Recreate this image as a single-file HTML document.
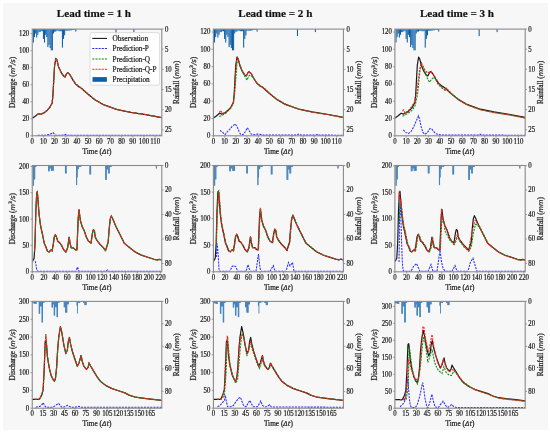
<!DOCTYPE html>
<html><head><meta charset="utf-8"><title>Lead time comparison</title><style>html,body{margin:0;padding:0;background:#fff;}svg{display:block;} svg text{stroke:#222;stroke-width:0.22px;}</style></head><body>
<svg width="550" height="435" viewBox="0 0 550 435">
<rect x="0" y="0" width="550" height="435" fill="#ffffff"/>
<rect x="3" y="3" width="545" height="427" fill="#f7f7f7"/>
<text x="93.93" y="16.6" font-family="'Liberation Serif','DejaVu Serif',serif" font-weight="bold" font-size="11.1" text-anchor="middle" fill="#111">Lead time = 1 h</text>
<text x="275.3" y="16.6" font-family="'Liberation Serif','DejaVu Serif',serif" font-weight="bold" font-size="11.1" text-anchor="middle" fill="#111">Lead time = 2 h</text>
<text x="456.95" y="16.6" font-family="'Liberation Serif','DejaVu Serif',serif" font-weight="bold" font-size="11.1" text-anchor="middle" fill="#111">Lead time = 3 h</text>
<clipPath id="clip00"><rect x="32.25" y="29.1" width="129.55" height="106.7"/></clipPath>
<g clip-path="url(#clip00)">
<rect x="32.86" y="29.1" width="1.03" height="13.42" fill="#085ca8"/>
<rect x="33.98" y="29.1" width="1.03" height="8.01" fill="#085ca8"/>
<rect x="35.1" y="29.1" width="1.03" height="4.41" fill="#085ca8"/>
<rect x="36.21" y="29.1" width="1.03" height="8.41" fill="#085ca8"/>
<rect x="37.33" y="29.1" width="1.03" height="5.71" fill="#085ca8"/>
<rect x="38.45" y="29.1" width="1.03" height="3" fill="#085ca8"/>
<rect x="39.57" y="29.1" width="1.03" height="3" fill="#085ca8"/>
<rect x="40.68" y="29.1" width="1.03" height="2.1" fill="#085ca8"/>
<rect x="41.8" y="29.1" width="1.03" height="2.1" fill="#085ca8"/>
<rect x="42.92" y="29.1" width="1.03" height="9.82" fill="#085ca8"/>
<rect x="44.03" y="29.1" width="1.03" height="13.42" fill="#085ca8"/>
<rect x="45.15" y="29.1" width="1.03" height="5.71" fill="#085ca8"/>
<rect x="46.27" y="29.1" width="1.03" height="8.01" fill="#085ca8"/>
<rect x="47.38" y="29.1" width="1.03" height="18.03" fill="#085ca8"/>
<rect x="48.5" y="29.1" width="1.03" height="15.73" fill="#085ca8"/>
<rect x="49.62" y="29.1" width="1.03" height="18.93" fill="#085ca8"/>
<rect x="50.73" y="29.1" width="1.03" height="21.23" fill="#085ca8"/>
<rect x="51.85" y="29.1" width="1.03" height="21.23" fill="#085ca8"/>
<rect x="52.97" y="29.1" width="1.03" height="4.41" fill="#085ca8"/>
<rect x="54.08" y="29.1" width="1.03" height="2.5" fill="#085ca8"/>
<rect x="55.2" y="29.1" width="1.03" height="2.5" fill="#085ca8"/>
<rect x="56.32" y="29.1" width="1.03" height="1.6" fill="#085ca8"/>
<rect x="57.43" y="29.1" width="1.03" height="1.6" fill="#085ca8"/>
<rect x="58.55" y="29.1" width="1.03" height="2.1" fill="#085ca8"/>
<rect x="59.67" y="29.1" width="1.03" height="2.1" fill="#085ca8"/>
<rect x="60.78" y="29.1" width="1.03" height="2.1" fill="#085ca8"/>
<rect x="61.9" y="29.1" width="1.03" height="18.53" fill="#085ca8"/>
<rect x="63.02" y="29.1" width="1.03" height="9.82" fill="#085ca8"/>
<rect x="64.13" y="29.1" width="1.03" height="6.21" fill="#085ca8"/>
<rect x="65.25" y="29.1" width="1.03" height="1.6" fill="#085ca8"/>
<rect x="66.37" y="29.1" width="1.03" height="1.6" fill="#085ca8"/>
<rect x="67.49" y="29.1" width="1.03" height="1.6" fill="#085ca8"/>
<rect x="68.6" y="29.1" width="1.03" height="1.6" fill="#085ca8"/>
<rect x="69.72" y="29.1" width="1.03" height="1.2" fill="#085ca8"/>
<rect x="70.84" y="29.1" width="1.03" height="1.2" fill="#085ca8"/>
<rect x="71.95" y="29.1" width="1.03" height="0.7" fill="#085ca8"/>
<rect x="73.07" y="29.1" width="1.03" height="0.7" fill="#085ca8"/>
<rect x="74.19" y="29.1" width="1.03" height="0.7" fill="#085ca8"/>
<rect x="75.3" y="29.1" width="1.03" height="2.5" fill="#085ca8"/>
<rect x="115.51" y="29.1" width="1.03" height="7.01" fill="#085ca8"/>
<rect x="133.38" y="29.1" width="1.03" height="3" fill="#085ca8"/>
<path d="M32.3,118.2 L35.2,116.3 L38.4,113.6 L40.8,114.4 L44.1,112.8 L47.3,110.2 L49.7,107.5 L52.1,103.1 L52.9,95.4 L53.7,80.9 L54.5,66.5 L55.8,58.4 L56.9,60 L58.5,66.5 L60.9,72.1 L63.4,75.8 L65,76.9 L66.6,73.7 L67.7,72.6 L69.8,74.5 L73,80.1 L75.7,84.2 L77,85 L78.6,86.6 L80,87.3 L82,88.7 L87.5,93.7 L94.9,99.7 L103.9,104.9 L117.3,109.6 L130.7,112.3 L145.6,114.6 L161.8,117.7" fill="none" stroke="#1a1a1a" stroke-width="1.2" stroke-linejoin="round"/>
<path d="M37.7,135.3 L45,135.2 L50,134.4 L53,132.7 L55.5,135.2 L60,135.3 L64,135 L65.5,134.4 L67,135.3 L161.8,135.3" fill="none" stroke="#2a2aff" stroke-width="1.05" stroke-dasharray="2.1,1.05"/>
<path d="M37.05,114.83 L38.51,113.6 L40.91,114.4 L44.21,112.8 L47.41,110.2 L49.81,107.5 L52.21,103.1 L53.01,95.4 L53.81,80.9 L54.61,66.5 L55.91,58.4 L57.01,60 L58.61,66.5 L61.01,72.1 L63.51,75.8 L65.11,76.9 L66.71,73.7 L67.81,72.6 L69.91,74.5 L73.11,80.1 L75.81,84.2 L77.11,85 L78.71,86.6 L80.11,87.3 L82.11,88.7 L87.61,93.7 L95.01,99.7 L104.01,104.9 L117.41,109.6 L130.81,112.3 L145.71,114.6 L161.91,117.7" fill="none" stroke="#0a8a0a" stroke-width="1.05" stroke-dasharray="2.1,1.05"/>
<path d="M37.05,114.74 L38.4,113.6 L40.8,114.4 L44.1,112.8 L47.3,110.2 L49.7,107.5 L52.1,103.1 L52.9,95.4 L53.7,80.9 L54.5,66.5 L55.8,58.4 L56.9,60 L58.5,66.5 L60.9,72.1 L63.4,75.8 L65,76.9 L66.6,73.7 L67.7,72.6 L69.8,74.5 L73,80.1 L75.7,84.2 L77,85 L78.6,86.6 L80,87.3 L82,88.7 L87.5,93.7 L94.9,99.7 L103.9,104.9 L117.3,109.6 L130.7,112.3 L145.6,114.6 L161.8,117.7" fill="none" stroke="#ff2020" stroke-width="1.05" stroke-dasharray="2.1,1.05"/>
</g>
<rect x="32.25" y="29.1" width="129.55" height="106.7" fill="none" stroke="#8a8a8a" stroke-width="1.1"/>
<line x1="30.45" y1="135.8" x2="32.25" y2="135.8" stroke="#8a8a8a" stroke-width="0.8"/>
<text transform="translate(29.15,138.25) scale(0.93,1)" font-family="'Liberation Serif','DejaVu Serif',serif" font-size="7.3" text-anchor="end" fill="#1a1a1a">0</text>
<line x1="30.45" y1="118.77" x2="32.25" y2="118.77" stroke="#8a8a8a" stroke-width="0.8"/>
<text transform="translate(29.15,121.22) scale(0.93,1)" font-family="'Liberation Serif','DejaVu Serif',serif" font-size="7.3" text-anchor="end" fill="#1a1a1a">20</text>
<line x1="30.45" y1="101.74" x2="32.25" y2="101.74" stroke="#8a8a8a" stroke-width="0.8"/>
<text transform="translate(29.15,104.19) scale(0.93,1)" font-family="'Liberation Serif','DejaVu Serif',serif" font-size="7.3" text-anchor="end" fill="#1a1a1a">40</text>
<line x1="30.45" y1="84.71" x2="32.25" y2="84.71" stroke="#8a8a8a" stroke-width="0.8"/>
<text transform="translate(29.15,87.16) scale(0.93,1)" font-family="'Liberation Serif','DejaVu Serif',serif" font-size="7.3" text-anchor="end" fill="#1a1a1a">60</text>
<line x1="30.45" y1="67.68" x2="32.25" y2="67.68" stroke="#8a8a8a" stroke-width="0.8"/>
<text transform="translate(29.15,70.13) scale(0.93,1)" font-family="'Liberation Serif','DejaVu Serif',serif" font-size="7.3" text-anchor="end" fill="#1a1a1a">80</text>
<line x1="30.45" y1="50.64" x2="32.25" y2="50.64" stroke="#8a8a8a" stroke-width="0.8"/>
<text transform="translate(29.15,53.09) scale(0.93,1)" font-family="'Liberation Serif','DejaVu Serif',serif" font-size="7.3" text-anchor="end" fill="#1a1a1a">100</text>
<line x1="30.45" y1="33.61" x2="32.25" y2="33.61" stroke="#8a8a8a" stroke-width="0.8"/>
<text transform="translate(29.15,36.06) scale(0.93,1)" font-family="'Liberation Serif','DejaVu Serif',serif" font-size="7.3" text-anchor="end" fill="#1a1a1a">120</text>
<line x1="161.8" y1="29.1" x2="163.6" y2="29.1" stroke="#8a8a8a" stroke-width="0.8"/>
<text transform="translate(164.9,31.55) scale(0.93,1)" font-family="'Liberation Serif','DejaVu Serif',serif" font-size="7.3" fill="#1a1a1a">0</text>
<line x1="161.8" y1="49.23" x2="163.6" y2="49.23" stroke="#8a8a8a" stroke-width="0.8"/>
<text transform="translate(164.9,51.68) scale(0.93,1)" font-family="'Liberation Serif','DejaVu Serif',serif" font-size="7.3" fill="#1a1a1a">5</text>
<line x1="161.8" y1="69.36" x2="163.6" y2="69.36" stroke="#8a8a8a" stroke-width="0.8"/>
<text transform="translate(164.9,71.81) scale(0.93,1)" font-family="'Liberation Serif','DejaVu Serif',serif" font-size="7.3" fill="#1a1a1a">10</text>
<line x1="161.8" y1="89.5" x2="163.6" y2="89.5" stroke="#8a8a8a" stroke-width="0.8"/>
<text transform="translate(164.9,91.95) scale(0.93,1)" font-family="'Liberation Serif','DejaVu Serif',serif" font-size="7.3" fill="#1a1a1a">15</text>
<line x1="161.8" y1="109.63" x2="163.6" y2="109.63" stroke="#8a8a8a" stroke-width="0.8"/>
<text transform="translate(164.9,112.08) scale(0.93,1)" font-family="'Liberation Serif','DejaVu Serif',serif" font-size="7.3" fill="#1a1a1a">20</text>
<line x1="161.8" y1="129.76" x2="163.6" y2="129.76" stroke="#8a8a8a" stroke-width="0.8"/>
<text transform="translate(164.9,132.21) scale(0.93,1)" font-family="'Liberation Serif','DejaVu Serif',serif" font-size="7.3" fill="#1a1a1a">25</text>
<line x1="32.25" y1="135.8" x2="32.25" y2="137.6" stroke="#8a8a8a" stroke-width="0.8"/>
<text transform="translate(32.25,143.8) scale(0.93,1)" font-family="'Liberation Serif','DejaVu Serif',serif" font-size="7.3" text-anchor="middle" fill="#1a1a1a">0</text>
<line x1="43.42" y1="135.8" x2="43.42" y2="137.6" stroke="#8a8a8a" stroke-width="0.8"/>
<text transform="translate(43.42,143.8) scale(0.93,1)" font-family="'Liberation Serif','DejaVu Serif',serif" font-size="7.3" text-anchor="middle" fill="#1a1a1a">10</text>
<line x1="54.59" y1="135.8" x2="54.59" y2="137.6" stroke="#8a8a8a" stroke-width="0.8"/>
<text transform="translate(54.59,143.8) scale(0.93,1)" font-family="'Liberation Serif','DejaVu Serif',serif" font-size="7.3" text-anchor="middle" fill="#1a1a1a">20</text>
<line x1="65.75" y1="135.8" x2="65.75" y2="137.6" stroke="#8a8a8a" stroke-width="0.8"/>
<text transform="translate(65.75,143.8) scale(0.93,1)" font-family="'Liberation Serif','DejaVu Serif',serif" font-size="7.3" text-anchor="middle" fill="#1a1a1a">30</text>
<line x1="76.92" y1="135.8" x2="76.92" y2="137.6" stroke="#8a8a8a" stroke-width="0.8"/>
<text transform="translate(76.92,143.8) scale(0.93,1)" font-family="'Liberation Serif','DejaVu Serif',serif" font-size="7.3" text-anchor="middle" fill="#1a1a1a">40</text>
<line x1="88.09" y1="135.8" x2="88.09" y2="137.6" stroke="#8a8a8a" stroke-width="0.8"/>
<text transform="translate(88.09,143.8) scale(0.93,1)" font-family="'Liberation Serif','DejaVu Serif',serif" font-size="7.3" text-anchor="middle" fill="#1a1a1a">50</text>
<line x1="99.26" y1="135.8" x2="99.26" y2="137.6" stroke="#8a8a8a" stroke-width="0.8"/>
<text transform="translate(99.26,143.8) scale(0.93,1)" font-family="'Liberation Serif','DejaVu Serif',serif" font-size="7.3" text-anchor="middle" fill="#1a1a1a">60</text>
<line x1="110.43" y1="135.8" x2="110.43" y2="137.6" stroke="#8a8a8a" stroke-width="0.8"/>
<text transform="translate(110.43,143.8) scale(0.93,1)" font-family="'Liberation Serif','DejaVu Serif',serif" font-size="7.3" text-anchor="middle" fill="#1a1a1a">70</text>
<line x1="121.59" y1="135.8" x2="121.59" y2="137.6" stroke="#8a8a8a" stroke-width="0.8"/>
<text transform="translate(121.59,143.8) scale(0.93,1)" font-family="'Liberation Serif','DejaVu Serif',serif" font-size="7.3" text-anchor="middle" fill="#1a1a1a">80</text>
<line x1="132.76" y1="135.8" x2="132.76" y2="137.6" stroke="#8a8a8a" stroke-width="0.8"/>
<text transform="translate(132.76,143.8) scale(0.93,1)" font-family="'Liberation Serif','DejaVu Serif',serif" font-size="7.3" text-anchor="middle" fill="#1a1a1a">90</text>
<line x1="143.93" y1="135.8" x2="143.93" y2="137.6" stroke="#8a8a8a" stroke-width="0.8"/>
<text transform="translate(143.93,143.8) scale(0.93,1)" font-family="'Liberation Serif','DejaVu Serif',serif" font-size="7.3" text-anchor="middle" fill="#1a1a1a">100</text>
<line x1="155.1" y1="135.8" x2="155.1" y2="137.6" stroke="#8a8a8a" stroke-width="0.8"/>
<text transform="translate(155.1,143.8) scale(0.93,1)" font-family="'Liberation Serif','DejaVu Serif',serif" font-size="7.3" text-anchor="middle" fill="#1a1a1a">110</text>
<text transform="translate(14.55,82.45) rotate(-90)" font-family="'Liberation Serif','DejaVu Serif',serif" font-size="7.3" text-anchor="middle" fill="#1a1a1a">Discharge (<tspan font-family="'DejaVu Sans',sans-serif" font-style="italic" font-size="6.6">m</tspan><tspan font-family="'DejaVu Sans',sans-serif" font-size="4.6" dy="-2.6">3</tspan><tspan font-family="'DejaVu Sans',sans-serif" font-style="italic" font-size="6.6" dy="2.6">/s</tspan>)</text>
<text transform="translate(179.3,82.45) rotate(-90)" font-family="'Liberation Serif','DejaVu Serif',serif" font-size="7.3" text-anchor="middle" fill="#1a1a1a">Rainfall (<tspan font-family="'DejaVu Sans',sans-serif" font-style="italic" font-size="6.6">mm</tspan>)</text>
<text x="97.03" y="154" font-family="'Liberation Serif','DejaVu Serif',serif" font-size="7.3" text-anchor="middle" fill="#1a1a1a">Time (<tspan font-family="'DejaVu Sans',sans-serif" font-style="italic" font-size="6.6">Δt</tspan>)</text>
<clipPath id="clip01"><rect x="213.4" y="29.1" width="130" height="106.7"/></clipPath>
<g clip-path="url(#clip01)">
<rect x="214.02" y="29.1" width="1.03" height="13.42" fill="#085ca8"/>
<rect x="215.14" y="29.1" width="1.03" height="8.01" fill="#085ca8"/>
<rect x="216.26" y="29.1" width="1.03" height="4.41" fill="#085ca8"/>
<rect x="217.38" y="29.1" width="1.03" height="8.41" fill="#085ca8"/>
<rect x="218.5" y="29.1" width="1.03" height="5.71" fill="#085ca8"/>
<rect x="219.62" y="29.1" width="1.03" height="3" fill="#085ca8"/>
<rect x="220.74" y="29.1" width="1.03" height="3" fill="#085ca8"/>
<rect x="221.86" y="29.1" width="1.03" height="2.1" fill="#085ca8"/>
<rect x="222.98" y="29.1" width="1.03" height="2.1" fill="#085ca8"/>
<rect x="224.1" y="29.1" width="1.03" height="9.82" fill="#085ca8"/>
<rect x="225.22" y="29.1" width="1.03" height="13.42" fill="#085ca8"/>
<rect x="226.34" y="29.1" width="1.03" height="5.71" fill="#085ca8"/>
<rect x="227.46" y="29.1" width="1.03" height="8.01" fill="#085ca8"/>
<rect x="228.59" y="29.1" width="1.03" height="18.03" fill="#085ca8"/>
<rect x="229.71" y="29.1" width="1.03" height="15.73" fill="#085ca8"/>
<rect x="230.83" y="29.1" width="1.03" height="18.93" fill="#085ca8"/>
<rect x="231.95" y="29.1" width="1.03" height="21.23" fill="#085ca8"/>
<rect x="233.07" y="29.1" width="1.03" height="21.23" fill="#085ca8"/>
<rect x="234.19" y="29.1" width="1.03" height="4.41" fill="#085ca8"/>
<rect x="235.31" y="29.1" width="1.03" height="2.5" fill="#085ca8"/>
<rect x="236.43" y="29.1" width="1.03" height="2.5" fill="#085ca8"/>
<rect x="237.55" y="29.1" width="1.03" height="1.6" fill="#085ca8"/>
<rect x="238.67" y="29.1" width="1.03" height="1.6" fill="#085ca8"/>
<rect x="239.79" y="29.1" width="1.03" height="2.1" fill="#085ca8"/>
<rect x="240.91" y="29.1" width="1.03" height="2.1" fill="#085ca8"/>
<rect x="242.03" y="29.1" width="1.03" height="2.1" fill="#085ca8"/>
<rect x="243.15" y="29.1" width="1.03" height="18.53" fill="#085ca8"/>
<rect x="244.28" y="29.1" width="1.03" height="9.82" fill="#085ca8"/>
<rect x="245.4" y="29.1" width="1.03" height="6.21" fill="#085ca8"/>
<rect x="246.52" y="29.1" width="1.03" height="1.6" fill="#085ca8"/>
<rect x="247.64" y="29.1" width="1.03" height="1.6" fill="#085ca8"/>
<rect x="248.76" y="29.1" width="1.03" height="1.6" fill="#085ca8"/>
<rect x="249.88" y="29.1" width="1.03" height="1.6" fill="#085ca8"/>
<rect x="251" y="29.1" width="1.03" height="1.2" fill="#085ca8"/>
<rect x="252.12" y="29.1" width="1.03" height="1.2" fill="#085ca8"/>
<rect x="253.24" y="29.1" width="1.03" height="0.7" fill="#085ca8"/>
<rect x="254.36" y="29.1" width="1.03" height="0.7" fill="#085ca8"/>
<rect x="255.48" y="29.1" width="1.03" height="0.7" fill="#085ca8"/>
<rect x="256.6" y="29.1" width="1.03" height="2.5" fill="#085ca8"/>
<rect x="296.95" y="29.1" width="1.03" height="7.01" fill="#085ca8"/>
<rect x="314.88" y="29.1" width="1.03" height="3" fill="#085ca8"/>
<path d="M213.45,117.93 L216.36,116 L219.57,113.26 L221.98,114.07 L225.29,112.45 L228.5,109.81 L230.91,107.06 L233.32,102.6 L234.12,94.78 L234.92,80.05 L235.73,65.43 L237.03,57.21 L238.14,58.83 L239.74,65.43 L242.15,71.12 L244.66,74.88 L246.26,75.99 L247.87,72.74 L248.97,71.63 L251.08,73.56 L254.29,79.24 L257,83.41 L258.31,84.22 L259.91,85.84 L261.32,86.55 L263.32,87.97 L268.84,93.05 L276.27,99.14 L285.3,104.42 L298.75,109.2 L312.19,111.94 L327.14,114.27 L343.4,117.42" fill="none" stroke="#1a1a1a" stroke-width="1.2" stroke-linejoin="round"/>
<path d="M220,130.3 L222.5,132.2 L225.1,134.7 L227,132.2 L229.5,129.6 L232.1,126.5 L235.3,123.9 L237.2,127.1 L239.1,131.5 L240.4,134.1 L242.9,134.7 L245.5,131.5 L247.4,127.7 L249.3,130.9 L251.2,134.1 L253.7,134.7 L257.5,134.1 L260,134.3 L262.6,135.1 L296,135.1 L298.5,134 L301,135.1 L316,135.1 L317.5,134.4 L319,135.1 L343.4,135.2" fill="none" stroke="#2a2aff" stroke-width="1.05" stroke-dasharray="2.1,1.05"/>
<path d="M219.34,116.39 L222,115.5 L226,113.1 L230.8,108.3 L233.2,103.4 L234.8,92.2 L236,76.1 L237.3,60 L238.1,59.2 L240.5,66.5 L243.7,74.5 L246.9,80.1 L249.3,75.3 L251.7,76.1 L254.9,80.1 L258.2,85 L260.6,86.6 L261.99,86.55 L264,87.97 L269.51,93.05 L276.94,99.14 L285.97,104.42 L299.42,109.2 L312.86,112.24 L327.82,114.57 L344.07,117.72" fill="none" stroke="#0a8a0a" stroke-width="1.05" stroke-dasharray="2.1,1.05"/>
<path d="M219.34,112.68 L220.6,110.5 L222.5,113.5 L225.52,112.45 L228.73,109.81 L231.13,107.06 L233.54,102.6 L234.35,94.78 L235.15,80.05 L235.95,65.43 L237.26,57.21 L238.36,58.83 L239.97,65.43 L242.37,71.12 L244.88,74.88 L246.49,75.99 L248.09,72.74 L249.2,71.63 L251.3,73.56 L254.52,79.24 L257.23,83.41 L258.53,84.22 L260.14,85.84 L261.54,86.55 L263.55,87.97 L269.07,93.05 L276.49,99.14 L285.52,104.42 L298.97,109.2 L312.42,112.24 L327.37,114.57 L343.62,117.72" fill="none" stroke="#ff2020" stroke-width="1.05" stroke-dasharray="2.1,1.05"/>
</g>
<rect x="213.4" y="29.1" width="130" height="106.7" fill="none" stroke="#8a8a8a" stroke-width="1.1"/>
<line x1="211.6" y1="135.8" x2="213.4" y2="135.8" stroke="#8a8a8a" stroke-width="0.8"/>
<text transform="translate(210.3,138.25) scale(0.93,1)" font-family="'Liberation Serif','DejaVu Serif',serif" font-size="7.3" text-anchor="end" fill="#1a1a1a">0</text>
<line x1="211.6" y1="118.51" x2="213.4" y2="118.51" stroke="#8a8a8a" stroke-width="0.8"/>
<text transform="translate(210.3,120.96) scale(0.93,1)" font-family="'Liberation Serif','DejaVu Serif',serif" font-size="7.3" text-anchor="end" fill="#1a1a1a">20</text>
<line x1="211.6" y1="101.21" x2="213.4" y2="101.21" stroke="#8a8a8a" stroke-width="0.8"/>
<text transform="translate(210.3,103.66) scale(0.93,1)" font-family="'Liberation Serif','DejaVu Serif',serif" font-size="7.3" text-anchor="end" fill="#1a1a1a">40</text>
<line x1="211.6" y1="83.92" x2="213.4" y2="83.92" stroke="#8a8a8a" stroke-width="0.8"/>
<text transform="translate(210.3,86.37) scale(0.93,1)" font-family="'Liberation Serif','DejaVu Serif',serif" font-size="7.3" text-anchor="end" fill="#1a1a1a">60</text>
<line x1="211.6" y1="66.63" x2="213.4" y2="66.63" stroke="#8a8a8a" stroke-width="0.8"/>
<text transform="translate(210.3,69.08) scale(0.93,1)" font-family="'Liberation Serif','DejaVu Serif',serif" font-size="7.3" text-anchor="end" fill="#1a1a1a">80</text>
<line x1="211.6" y1="49.33" x2="213.4" y2="49.33" stroke="#8a8a8a" stroke-width="0.8"/>
<text transform="translate(210.3,51.78) scale(0.93,1)" font-family="'Liberation Serif','DejaVu Serif',serif" font-size="7.3" text-anchor="end" fill="#1a1a1a">100</text>
<line x1="211.6" y1="32.04" x2="213.4" y2="32.04" stroke="#8a8a8a" stroke-width="0.8"/>
<text transform="translate(210.3,34.49) scale(0.93,1)" font-family="'Liberation Serif','DejaVu Serif',serif" font-size="7.3" text-anchor="end" fill="#1a1a1a">120</text>
<line x1="343.4" y1="29.1" x2="345.2" y2="29.1" stroke="#8a8a8a" stroke-width="0.8"/>
<text transform="translate(346.5,31.55) scale(0.93,1)" font-family="'Liberation Serif','DejaVu Serif',serif" font-size="7.3" fill="#1a1a1a">0</text>
<line x1="343.4" y1="49.23" x2="345.2" y2="49.23" stroke="#8a8a8a" stroke-width="0.8"/>
<text transform="translate(346.5,51.68) scale(0.93,1)" font-family="'Liberation Serif','DejaVu Serif',serif" font-size="7.3" fill="#1a1a1a">5</text>
<line x1="343.4" y1="69.36" x2="345.2" y2="69.36" stroke="#8a8a8a" stroke-width="0.8"/>
<text transform="translate(346.5,71.81) scale(0.93,1)" font-family="'Liberation Serif','DejaVu Serif',serif" font-size="7.3" fill="#1a1a1a">10</text>
<line x1="343.4" y1="89.5" x2="345.2" y2="89.5" stroke="#8a8a8a" stroke-width="0.8"/>
<text transform="translate(346.5,91.95) scale(0.93,1)" font-family="'Liberation Serif','DejaVu Serif',serif" font-size="7.3" fill="#1a1a1a">15</text>
<line x1="343.4" y1="109.63" x2="345.2" y2="109.63" stroke="#8a8a8a" stroke-width="0.8"/>
<text transform="translate(346.5,112.08) scale(0.93,1)" font-family="'Liberation Serif','DejaVu Serif',serif" font-size="7.3" fill="#1a1a1a">20</text>
<line x1="343.4" y1="129.76" x2="345.2" y2="129.76" stroke="#8a8a8a" stroke-width="0.8"/>
<text transform="translate(346.5,132.21) scale(0.93,1)" font-family="'Liberation Serif','DejaVu Serif',serif" font-size="7.3" fill="#1a1a1a">25</text>
<line x1="213.4" y1="135.8" x2="213.4" y2="137.6" stroke="#8a8a8a" stroke-width="0.8"/>
<text transform="translate(213.4,143.8) scale(0.93,1)" font-family="'Liberation Serif','DejaVu Serif',serif" font-size="7.3" text-anchor="middle" fill="#1a1a1a">0</text>
<line x1="224.61" y1="135.8" x2="224.61" y2="137.6" stroke="#8a8a8a" stroke-width="0.8"/>
<text transform="translate(224.61,143.8) scale(0.93,1)" font-family="'Liberation Serif','DejaVu Serif',serif" font-size="7.3" text-anchor="middle" fill="#1a1a1a">10</text>
<line x1="235.81" y1="135.8" x2="235.81" y2="137.6" stroke="#8a8a8a" stroke-width="0.8"/>
<text transform="translate(235.81,143.8) scale(0.93,1)" font-family="'Liberation Serif','DejaVu Serif',serif" font-size="7.3" text-anchor="middle" fill="#1a1a1a">20</text>
<line x1="247.02" y1="135.8" x2="247.02" y2="137.6" stroke="#8a8a8a" stroke-width="0.8"/>
<text transform="translate(247.02,143.8) scale(0.93,1)" font-family="'Liberation Serif','DejaVu Serif',serif" font-size="7.3" text-anchor="middle" fill="#1a1a1a">30</text>
<line x1="258.23" y1="135.8" x2="258.23" y2="137.6" stroke="#8a8a8a" stroke-width="0.8"/>
<text transform="translate(258.23,143.8) scale(0.93,1)" font-family="'Liberation Serif','DejaVu Serif',serif" font-size="7.3" text-anchor="middle" fill="#1a1a1a">40</text>
<line x1="269.43" y1="135.8" x2="269.43" y2="137.6" stroke="#8a8a8a" stroke-width="0.8"/>
<text transform="translate(269.43,143.8) scale(0.93,1)" font-family="'Liberation Serif','DejaVu Serif',serif" font-size="7.3" text-anchor="middle" fill="#1a1a1a">50</text>
<line x1="280.64" y1="135.8" x2="280.64" y2="137.6" stroke="#8a8a8a" stroke-width="0.8"/>
<text transform="translate(280.64,143.8) scale(0.93,1)" font-family="'Liberation Serif','DejaVu Serif',serif" font-size="7.3" text-anchor="middle" fill="#1a1a1a">60</text>
<line x1="291.85" y1="135.8" x2="291.85" y2="137.6" stroke="#8a8a8a" stroke-width="0.8"/>
<text transform="translate(291.85,143.8) scale(0.93,1)" font-family="'Liberation Serif','DejaVu Serif',serif" font-size="7.3" text-anchor="middle" fill="#1a1a1a">70</text>
<line x1="303.06" y1="135.8" x2="303.06" y2="137.6" stroke="#8a8a8a" stroke-width="0.8"/>
<text transform="translate(303.06,143.8) scale(0.93,1)" font-family="'Liberation Serif','DejaVu Serif',serif" font-size="7.3" text-anchor="middle" fill="#1a1a1a">80</text>
<line x1="314.26" y1="135.8" x2="314.26" y2="137.6" stroke="#8a8a8a" stroke-width="0.8"/>
<text transform="translate(314.26,143.8) scale(0.93,1)" font-family="'Liberation Serif','DejaVu Serif',serif" font-size="7.3" text-anchor="middle" fill="#1a1a1a">90</text>
<line x1="325.47" y1="135.8" x2="325.47" y2="137.6" stroke="#8a8a8a" stroke-width="0.8"/>
<text transform="translate(325.47,143.8) scale(0.93,1)" font-family="'Liberation Serif','DejaVu Serif',serif" font-size="7.3" text-anchor="middle" fill="#1a1a1a">100</text>
<line x1="336.68" y1="135.8" x2="336.68" y2="137.6" stroke="#8a8a8a" stroke-width="0.8"/>
<text transform="translate(336.68,143.8) scale(0.93,1)" font-family="'Liberation Serif','DejaVu Serif',serif" font-size="7.3" text-anchor="middle" fill="#1a1a1a">110</text>
<text transform="translate(195.7,82.45) rotate(-90)" font-family="'Liberation Serif','DejaVu Serif',serif" font-size="7.3" text-anchor="middle" fill="#1a1a1a">Discharge (<tspan font-family="'DejaVu Sans',sans-serif" font-style="italic" font-size="6.6">m</tspan><tspan font-family="'DejaVu Sans',sans-serif" font-size="4.6" dy="-2.6">3</tspan><tspan font-family="'DejaVu Sans',sans-serif" font-style="italic" font-size="6.6" dy="2.6">/s</tspan>)</text>
<text transform="translate(360.9,82.45) rotate(-90)" font-family="'Liberation Serif','DejaVu Serif',serif" font-size="7.3" text-anchor="middle" fill="#1a1a1a">Rainfall (<tspan font-family="'DejaVu Sans',sans-serif" font-style="italic" font-size="6.6">mm</tspan>)</text>
<text x="278.4" y="154" font-family="'Liberation Serif','DejaVu Serif',serif" font-size="7.3" text-anchor="middle" fill="#1a1a1a">Time (<tspan font-family="'DejaVu Sans',sans-serif" font-style="italic" font-size="6.6">Δt</tspan>)</text>
<clipPath id="clip02"><rect x="394.9" y="29.1" width="130.3" height="106.7"/></clipPath>
<g clip-path="url(#clip02)">
<rect x="395.52" y="29.1" width="1.03" height="13.42" fill="#085ca8"/>
<rect x="396.64" y="29.1" width="1.03" height="8.01" fill="#085ca8"/>
<rect x="397.76" y="29.1" width="1.03" height="4.41" fill="#085ca8"/>
<rect x="398.89" y="29.1" width="1.03" height="8.41" fill="#085ca8"/>
<rect x="400.01" y="29.1" width="1.03" height="5.71" fill="#085ca8"/>
<rect x="401.13" y="29.1" width="1.03" height="3" fill="#085ca8"/>
<rect x="402.26" y="29.1" width="1.03" height="3" fill="#085ca8"/>
<rect x="403.38" y="29.1" width="1.03" height="2.1" fill="#085ca8"/>
<rect x="404.5" y="29.1" width="1.03" height="2.1" fill="#085ca8"/>
<rect x="405.63" y="29.1" width="1.03" height="9.82" fill="#085ca8"/>
<rect x="406.75" y="29.1" width="1.03" height="13.42" fill="#085ca8"/>
<rect x="407.87" y="29.1" width="1.03" height="5.71" fill="#085ca8"/>
<rect x="409" y="29.1" width="1.03" height="8.01" fill="#085ca8"/>
<rect x="410.12" y="29.1" width="1.03" height="18.03" fill="#085ca8"/>
<rect x="411.24" y="29.1" width="1.03" height="15.73" fill="#085ca8"/>
<rect x="412.37" y="29.1" width="1.03" height="18.93" fill="#085ca8"/>
<rect x="413.49" y="29.1" width="1.03" height="21.23" fill="#085ca8"/>
<rect x="414.61" y="29.1" width="1.03" height="21.23" fill="#085ca8"/>
<rect x="415.74" y="29.1" width="1.03" height="4.41" fill="#085ca8"/>
<rect x="416.86" y="29.1" width="1.03" height="2.5" fill="#085ca8"/>
<rect x="417.98" y="29.1" width="1.03" height="2.5" fill="#085ca8"/>
<rect x="419.11" y="29.1" width="1.03" height="1.6" fill="#085ca8"/>
<rect x="420.23" y="29.1" width="1.03" height="1.6" fill="#085ca8"/>
<rect x="421.35" y="29.1" width="1.03" height="2.1" fill="#085ca8"/>
<rect x="422.48" y="29.1" width="1.03" height="2.1" fill="#085ca8"/>
<rect x="423.6" y="29.1" width="1.03" height="2.1" fill="#085ca8"/>
<rect x="424.72" y="29.1" width="1.03" height="18.53" fill="#085ca8"/>
<rect x="425.85" y="29.1" width="1.03" height="9.82" fill="#085ca8"/>
<rect x="426.97" y="29.1" width="1.03" height="6.21" fill="#085ca8"/>
<rect x="428.09" y="29.1" width="1.03" height="1.6" fill="#085ca8"/>
<rect x="429.22" y="29.1" width="1.03" height="1.6" fill="#085ca8"/>
<rect x="430.34" y="29.1" width="1.03" height="1.6" fill="#085ca8"/>
<rect x="431.46" y="29.1" width="1.03" height="1.6" fill="#085ca8"/>
<rect x="432.59" y="29.1" width="1.03" height="1.2" fill="#085ca8"/>
<rect x="433.71" y="29.1" width="1.03" height="1.2" fill="#085ca8"/>
<rect x="434.83" y="29.1" width="1.03" height="0.7" fill="#085ca8"/>
<rect x="435.96" y="29.1" width="1.03" height="0.7" fill="#085ca8"/>
<rect x="437.08" y="29.1" width="1.03" height="0.7" fill="#085ca8"/>
<rect x="438.2" y="29.1" width="1.03" height="2.5" fill="#085ca8"/>
<rect x="478.64" y="29.1" width="1.03" height="7.01" fill="#085ca8"/>
<rect x="496.61" y="29.1" width="1.03" height="3" fill="#085ca8"/>
<path d="M394.95,117.93 L397.87,116 L401.09,113.26 L403.5,114.07 L406.82,112.45 L410.04,109.81 L412.45,107.06 L414.86,102.6 L415.67,94.78 L416.47,80.05 L417.28,65.43 L418.59,57.21 L419.69,58.83 L421.3,65.43 L423.72,71.12 L426.23,74.88 L427.84,75.99 L429.45,72.74 L430.56,71.63 L432.67,73.56 L435.89,79.24 L438.6,83.41 L439.91,84.22 L441.52,85.84 L442.93,86.55 L444.94,87.97 L450.47,93.05 L457.91,99.14 L466.96,104.42 L480.44,109.2 L493.92,111.94 L508.91,114.27 L525.2,117.42" fill="none" stroke="#1a1a1a" stroke-width="1.2" stroke-linejoin="round"/>
<path d="M403.3,129.8 L405.8,132.4 L408.4,133.6 L410.9,131.7 L413.5,127.3 L416,121.5 L418.5,115.8 L419.8,120.3 L421.1,126.6 L423,132.4 L424.9,134.3 L427.5,132.4 L430,128.5 L431.9,129.2 L433.8,131.7 L435.7,133.6 L438.9,134.5 L441,135.1 L478,135.1 L480,134.2 L482,135.1 L525.2,135.2" fill="none" stroke="#2a2aff" stroke-width="1.05" stroke-dasharray="2.1,1.05"/>
<path d="M402.54,116.18 L406.7,114.1 L411.7,110.7 L415.1,105.7 L417.6,94 L419.3,77.2 L420.5,66.3 L421.5,62.9 L423.5,67.9 L426.8,77.2 L429.4,82.2 L431.9,78.8 L434.4,77.2 L437.8,83.9 L441.9,88.1 L446.1,90.75 L446.29,88.15 L451.82,93.85 L459.26,99.94 L468.31,105.22 L481.79,110 L495.27,112.74 L510.25,115.07 L526.55,118.22" fill="none" stroke="#0a8a0a" stroke-width="1.05" stroke-dasharray="2.1,1.05"/>
<path d="M402.54,111.19 L403.4,109.9 L405,113.2 L410,109 L414.3,102.3 L416.8,92.3 L419.3,72.1 L421,62.9 L422.7,65.4 L425.2,70.5 L427.7,73 L431,71.3 L435.2,77.2 L440.3,85.6 L444.5,89.8 L445.5,88.04 L451.03,93.85 L458.47,99.94 L467.53,105.22 L481,110 L494.48,112.74 L509.47,115.07 L525.76,118.22" fill="none" stroke="#ff2020" stroke-width="1.05" stroke-dasharray="2.1,1.05"/>
</g>
<rect x="394.9" y="29.1" width="130.3" height="106.7" fill="none" stroke="#8a8a8a" stroke-width="1.1"/>
<line x1="393.1" y1="135.8" x2="394.9" y2="135.8" stroke="#8a8a8a" stroke-width="0.8"/>
<text transform="translate(391.8,138.25) scale(0.93,1)" font-family="'Liberation Serif','DejaVu Serif',serif" font-size="7.3" text-anchor="end" fill="#1a1a1a">0</text>
<line x1="393.1" y1="118.51" x2="394.9" y2="118.51" stroke="#8a8a8a" stroke-width="0.8"/>
<text transform="translate(391.8,120.96) scale(0.93,1)" font-family="'Liberation Serif','DejaVu Serif',serif" font-size="7.3" text-anchor="end" fill="#1a1a1a">20</text>
<line x1="393.1" y1="101.21" x2="394.9" y2="101.21" stroke="#8a8a8a" stroke-width="0.8"/>
<text transform="translate(391.8,103.66) scale(0.93,1)" font-family="'Liberation Serif','DejaVu Serif',serif" font-size="7.3" text-anchor="end" fill="#1a1a1a">40</text>
<line x1="393.1" y1="83.92" x2="394.9" y2="83.92" stroke="#8a8a8a" stroke-width="0.8"/>
<text transform="translate(391.8,86.37) scale(0.93,1)" font-family="'Liberation Serif','DejaVu Serif',serif" font-size="7.3" text-anchor="end" fill="#1a1a1a">60</text>
<line x1="393.1" y1="66.63" x2="394.9" y2="66.63" stroke="#8a8a8a" stroke-width="0.8"/>
<text transform="translate(391.8,69.08) scale(0.93,1)" font-family="'Liberation Serif','DejaVu Serif',serif" font-size="7.3" text-anchor="end" fill="#1a1a1a">80</text>
<line x1="393.1" y1="49.33" x2="394.9" y2="49.33" stroke="#8a8a8a" stroke-width="0.8"/>
<text transform="translate(391.8,51.78) scale(0.93,1)" font-family="'Liberation Serif','DejaVu Serif',serif" font-size="7.3" text-anchor="end" fill="#1a1a1a">100</text>
<line x1="393.1" y1="32.04" x2="394.9" y2="32.04" stroke="#8a8a8a" stroke-width="0.8"/>
<text transform="translate(391.8,34.49) scale(0.93,1)" font-family="'Liberation Serif','DejaVu Serif',serif" font-size="7.3" text-anchor="end" fill="#1a1a1a">120</text>
<line x1="525.2" y1="29.1" x2="527" y2="29.1" stroke="#8a8a8a" stroke-width="0.8"/>
<text transform="translate(528.3,31.55) scale(0.93,1)" font-family="'Liberation Serif','DejaVu Serif',serif" font-size="7.3" fill="#1a1a1a">0</text>
<line x1="525.2" y1="49.23" x2="527" y2="49.23" stroke="#8a8a8a" stroke-width="0.8"/>
<text transform="translate(528.3,51.68) scale(0.93,1)" font-family="'Liberation Serif','DejaVu Serif',serif" font-size="7.3" fill="#1a1a1a">5</text>
<line x1="525.2" y1="69.36" x2="527" y2="69.36" stroke="#8a8a8a" stroke-width="0.8"/>
<text transform="translate(528.3,71.81) scale(0.93,1)" font-family="'Liberation Serif','DejaVu Serif',serif" font-size="7.3" fill="#1a1a1a">10</text>
<line x1="525.2" y1="89.5" x2="527" y2="89.5" stroke="#8a8a8a" stroke-width="0.8"/>
<text transform="translate(528.3,91.95) scale(0.93,1)" font-family="'Liberation Serif','DejaVu Serif',serif" font-size="7.3" fill="#1a1a1a">15</text>
<line x1="525.2" y1="109.63" x2="527" y2="109.63" stroke="#8a8a8a" stroke-width="0.8"/>
<text transform="translate(528.3,112.08) scale(0.93,1)" font-family="'Liberation Serif','DejaVu Serif',serif" font-size="7.3" fill="#1a1a1a">20</text>
<line x1="525.2" y1="129.76" x2="527" y2="129.76" stroke="#8a8a8a" stroke-width="0.8"/>
<text transform="translate(528.3,132.21) scale(0.93,1)" font-family="'Liberation Serif','DejaVu Serif',serif" font-size="7.3" fill="#1a1a1a">25</text>
<line x1="394.9" y1="135.8" x2="394.9" y2="137.6" stroke="#8a8a8a" stroke-width="0.8"/>
<text transform="translate(394.9,143.8) scale(0.93,1)" font-family="'Liberation Serif','DejaVu Serif',serif" font-size="7.3" text-anchor="middle" fill="#1a1a1a">0</text>
<line x1="406.13" y1="135.8" x2="406.13" y2="137.6" stroke="#8a8a8a" stroke-width="0.8"/>
<text transform="translate(406.13,143.8) scale(0.93,1)" font-family="'Liberation Serif','DejaVu Serif',serif" font-size="7.3" text-anchor="middle" fill="#1a1a1a">10</text>
<line x1="417.37" y1="135.8" x2="417.37" y2="137.6" stroke="#8a8a8a" stroke-width="0.8"/>
<text transform="translate(417.37,143.8) scale(0.93,1)" font-family="'Liberation Serif','DejaVu Serif',serif" font-size="7.3" text-anchor="middle" fill="#1a1a1a">20</text>
<line x1="428.6" y1="135.8" x2="428.6" y2="137.6" stroke="#8a8a8a" stroke-width="0.8"/>
<text transform="translate(428.6,143.8) scale(0.93,1)" font-family="'Liberation Serif','DejaVu Serif',serif" font-size="7.3" text-anchor="middle" fill="#1a1a1a">30</text>
<line x1="439.83" y1="135.8" x2="439.83" y2="137.6" stroke="#8a8a8a" stroke-width="0.8"/>
<text transform="translate(439.83,143.8) scale(0.93,1)" font-family="'Liberation Serif','DejaVu Serif',serif" font-size="7.3" text-anchor="middle" fill="#1a1a1a">40</text>
<line x1="451.06" y1="135.8" x2="451.06" y2="137.6" stroke="#8a8a8a" stroke-width="0.8"/>
<text transform="translate(451.06,143.8) scale(0.93,1)" font-family="'Liberation Serif','DejaVu Serif',serif" font-size="7.3" text-anchor="middle" fill="#1a1a1a">50</text>
<line x1="462.3" y1="135.8" x2="462.3" y2="137.6" stroke="#8a8a8a" stroke-width="0.8"/>
<text transform="translate(462.3,143.8) scale(0.93,1)" font-family="'Liberation Serif','DejaVu Serif',serif" font-size="7.3" text-anchor="middle" fill="#1a1a1a">60</text>
<line x1="473.53" y1="135.8" x2="473.53" y2="137.6" stroke="#8a8a8a" stroke-width="0.8"/>
<text transform="translate(473.53,143.8) scale(0.93,1)" font-family="'Liberation Serif','DejaVu Serif',serif" font-size="7.3" text-anchor="middle" fill="#1a1a1a">70</text>
<line x1="484.76" y1="135.8" x2="484.76" y2="137.6" stroke="#8a8a8a" stroke-width="0.8"/>
<text transform="translate(484.76,143.8) scale(0.93,1)" font-family="'Liberation Serif','DejaVu Serif',serif" font-size="7.3" text-anchor="middle" fill="#1a1a1a">80</text>
<line x1="495.99" y1="135.8" x2="495.99" y2="137.6" stroke="#8a8a8a" stroke-width="0.8"/>
<text transform="translate(495.99,143.8) scale(0.93,1)" font-family="'Liberation Serif','DejaVu Serif',serif" font-size="7.3" text-anchor="middle" fill="#1a1a1a">90</text>
<line x1="507.23" y1="135.8" x2="507.23" y2="137.6" stroke="#8a8a8a" stroke-width="0.8"/>
<text transform="translate(507.23,143.8) scale(0.93,1)" font-family="'Liberation Serif','DejaVu Serif',serif" font-size="7.3" text-anchor="middle" fill="#1a1a1a">100</text>
<line x1="518.46" y1="135.8" x2="518.46" y2="137.6" stroke="#8a8a8a" stroke-width="0.8"/>
<text transform="translate(518.46,143.8) scale(0.93,1)" font-family="'Liberation Serif','DejaVu Serif',serif" font-size="7.3" text-anchor="middle" fill="#1a1a1a">110</text>
<text transform="translate(377.2,82.45) rotate(-90)" font-family="'Liberation Serif','DejaVu Serif',serif" font-size="7.3" text-anchor="middle" fill="#1a1a1a">Discharge (<tspan font-family="'DejaVu Sans',sans-serif" font-style="italic" font-size="6.6">m</tspan><tspan font-family="'DejaVu Sans',sans-serif" font-size="4.6" dy="-2.6">3</tspan><tspan font-family="'DejaVu Sans',sans-serif" font-style="italic" font-size="6.6" dy="2.6">/s</tspan>)</text>
<text transform="translate(542.7,82.45) rotate(-90)" font-family="'Liberation Serif','DejaVu Serif',serif" font-size="7.3" text-anchor="middle" fill="#1a1a1a">Rainfall (<tspan font-family="'DejaVu Sans',sans-serif" font-style="italic" font-size="6.6">mm</tspan>)</text>
<text x="460.05" y="154" font-family="'Liberation Serif','DejaVu Serif',serif" font-size="7.3" text-anchor="middle" fill="#1a1a1a">Time (<tspan font-family="'DejaVu Sans',sans-serif" font-style="italic" font-size="6.6">Δt</tspan>)</text>
<clipPath id="clip10"><rect x="32.25" y="165.5" width="129.55" height="106.3"/></clipPath>
<g clip-path="url(#clip10)">
<rect x="32.89" y="165.5" width="0.54" height="20.29" fill="#085ca8"/>
<rect x="33.47" y="165.5" width="0.54" height="20.29" fill="#085ca8"/>
<rect x="34.06" y="165.5" width="0.54" height="14" fill="#085ca8"/>
<rect x="34.64" y="165.5" width="0.54" height="14" fill="#085ca8"/>
<rect x="35.22" y="165.5" width="0.54" height="1.5" fill="#085ca8"/>
<rect x="35.8" y="165.5" width="0.54" height="1.5" fill="#085ca8"/>
<rect x="48.04" y="165.5" width="0.54" height="5.8" fill="#085ca8"/>
<rect x="48.63" y="165.5" width="0.54" height="5.8" fill="#085ca8"/>
<rect x="49.21" y="165.5" width="0.54" height="5.8" fill="#085ca8"/>
<rect x="49.79" y="165.5" width="0.54" height="3" fill="#085ca8"/>
<rect x="50.37" y="165.5" width="0.54" height="3" fill="#085ca8"/>
<rect x="50.96" y="165.5" width="0.54" height="5.4" fill="#085ca8"/>
<rect x="51.54" y="165.5" width="0.54" height="5.4" fill="#085ca8"/>
<rect x="52.12" y="165.5" width="0.54" height="5.4" fill="#085ca8"/>
<rect x="52.71" y="165.5" width="0.54" height="5.4" fill="#085ca8"/>
<rect x="53.29" y="165.5" width="0.54" height="5.4" fill="#085ca8"/>
<rect x="64.94" y="165.5" width="0.54" height="8" fill="#085ca8"/>
<rect x="65.53" y="165.5" width="0.54" height="8" fill="#085ca8"/>
<rect x="66.11" y="165.5" width="0.54" height="8" fill="#085ca8"/>
<rect x="76.02" y="165.5" width="0.54" height="19.59" fill="#085ca8"/>
<rect x="76.6" y="165.5" width="0.54" height="19.59" fill="#085ca8"/>
<rect x="77.18" y="165.5" width="0.54" height="12" fill="#085ca8"/>
<rect x="77.76" y="165.5" width="0.54" height="3.6" fill="#085ca8"/>
<rect x="78.35" y="165.5" width="0.54" height="3.6" fill="#085ca8"/>
<rect x="78.93" y="165.5" width="0.54" height="1.4" fill="#085ca8"/>
<rect x="79.51" y="165.5" width="0.54" height="1.4" fill="#085ca8"/>
<rect x="80.1" y="165.5" width="0.54" height="1.4" fill="#085ca8"/>
<rect x="80.68" y="165.5" width="0.54" height="1.4" fill="#085ca8"/>
<rect x="89.42" y="165.5" width="0.54" height="9" fill="#085ca8"/>
<rect x="90" y="165.5" width="0.54" height="9" fill="#085ca8"/>
<rect x="90.59" y="165.5" width="0.54" height="9" fill="#085ca8"/>
<rect x="105.15" y="165.5" width="0.54" height="14.4" fill="#085ca8"/>
<rect x="105.74" y="165.5" width="0.54" height="14.4" fill="#085ca8"/>
<rect x="106.32" y="165.5" width="0.54" height="14.4" fill="#085ca8"/>
<rect x="106.9" y="165.5" width="0.54" height="4" fill="#085ca8"/>
<rect x="107.49" y="165.5" width="0.54" height="4" fill="#085ca8"/>
<rect x="108.07" y="165.5" width="0.54" height="8" fill="#085ca8"/>
<rect x="108.65" y="165.5" width="0.54" height="8" fill="#085ca8"/>
<rect x="109.23" y="165.5" width="0.54" height="8" fill="#085ca8"/>
<rect x="109.82" y="165.5" width="0.54" height="1.5" fill="#085ca8"/>
<rect x="110.4" y="165.5" width="0.54" height="1.5" fill="#085ca8"/>
<rect x="110.98" y="165.5" width="0.54" height="1.5" fill="#085ca8"/>
<rect x="155.86" y="165.5" width="0.54" height="3" fill="#085ca8"/>
<rect x="156.44" y="165.5" width="0.54" height="3" fill="#085ca8"/>
<path d="M32.3,261.6 L34.1,258.4 L35,243.6 L35.8,211.8 L36.7,192.7 L37.3,191.7 L37.9,199 L39,213.9 L40.5,225.5 L42.6,235 L44.3,243.6 L45.8,246.7 L47.3,251 L49,252 L51,249.9 L52.1,251 L53.2,244.6 L54.2,237.2 L55.3,234.7 L56.4,236.8 L57.8,241.4 L59.5,242.5 L61.7,245.7 L63.8,249.9 L65.9,252 L67.6,247.8 L69.1,237.2 L70.1,243.6 L71.2,247.8 L73.3,247.8 L75.4,249.9 L76.9,249.9 L78.2,218.1 L79,209.7 L80.3,220.3 L82.1,226.5 L84.2,230.7 L86.3,237.1 L88.5,241.3 L91,243 L92.3,233.9 L93.3,229.7 L94.4,230.7 L95.2,237.1 L96.9,240.3 L100.1,244.5 L103.3,247.7 L105.5,250.6 L107.1,245.5 L108.1,242.4 L109.2,228.6 L110.2,219.1 L111.3,215.9 L112.8,219.1 L115.9,226.5 L120.2,235 L124.4,243.4 L129.7,247.7 L135,251.9 L141.3,255.1 L147.7,257.2 L154,259.3 L157.2,259.9 L159.3,259.3 L161.8,259.9" fill="none" stroke="#1a1a1a" stroke-width="1.2" stroke-linejoin="round"/>
<path d="M35.3,261.2 L36,265 L36.7,269.3 L37.7,271.3 L76,271.3 L77.5,267 L79,271.3 L106,271.3 L107.5,269.9 L109,271.3 L161.8,271.3" fill="none" stroke="#2a2aff" stroke-width="1.05" stroke-dasharray="2.1,1.05"/>
<path d="M34.58,252.41 L35.12,243.6 L35.92,211.8 L36.82,192.7 L37.42,191.7 L38.02,199 L39.12,213.9 L40.62,225.5 L42.72,235 L44.42,243.6 L45.92,246.7 L47.42,251 L49.12,252 L51.12,249.9 L52.22,251 L53.32,244.6 L54.32,237.2 L55.42,234.7 L56.52,236.8 L57.92,241.4 L59.62,242.5 L61.82,245.7 L63.92,249.9 L66.02,252 L67.72,247.8 L69.22,237.2 L70.22,243.6 L71.32,247.8 L73.42,247.8 L75.52,249.9 L77.02,249.9 L78.32,218.1 L79.12,209.7 L80.42,220.3 L82.22,226.5 L84.32,230.7 L86.42,237.1 L88.62,241.3 L91.12,243 L92.42,233.9 L93.42,229.7 L94.52,230.7 L95.32,237.1 L97.02,240.3 L100.22,244.5 L103.42,247.7 L105.62,250.6 L107.22,245.5 L108.22,242.4 L109.32,228.6 L110.32,219.1 L111.42,215.9 L112.92,219.1 L116.02,226.5 L120.32,235 L124.52,243.4 L129.82,247.7 L135.12,251.9 L141.42,255.1 L147.82,257.2 L154.12,259.3 L157.32,259.9 L159.42,259.3 L161.92,259.9" fill="none" stroke="#0a8a0a" stroke-width="1.05" stroke-dasharray="2.1,1.05"/>
<path d="M34.58,250.49 L35,243.6 L35.8,211.8 L36.7,192.7 L37.3,191.7 L37.9,199 L39,213.9 L40.5,225.5 L42.6,235 L44.3,243.6 L45.8,246.7 L47.3,251 L49,252 L51,249.9 L52.1,251 L53.2,244.6 L54.2,237.2 L55.3,234.7 L56.4,236.8 L57.8,241.4 L59.5,242.5 L61.7,245.7 L63.8,249.9 L65.9,252 L67.6,247.8 L69.1,237.2 L70.1,243.6 L71.2,247.8 L73.3,247.8 L75.4,249.9 L76.9,249.9 L78.2,218.1 L79,209.7 L80.3,220.3 L82.1,226.5 L84.2,230.7 L86.3,237.1 L88.5,241.3 L91,243 L92.3,233.9 L93.3,229.7 L94.4,230.7 L95.2,237.1 L96.9,240.3 L100.1,244.5 L103.3,247.7 L105.5,250.6 L107.1,245.5 L108.1,242.4 L109.2,228.6 L110.2,219.1 L111.3,215.9 L112.8,219.1 L115.9,226.5 L120.2,235 L124.4,243.4 L129.7,247.7 L135,251.9 L141.3,255.1 L147.7,257.2 L154,259.3 L157.2,259.9 L159.3,259.3 L161.8,259.9" fill="none" stroke="#ff2020" stroke-width="1.05" stroke-dasharray="2.1,1.05"/>
</g>
<rect x="32.25" y="165.5" width="129.55" height="106.3" fill="none" stroke="#8a8a8a" stroke-width="1.1"/>
<line x1="30.45" y1="271.8" x2="32.25" y2="271.8" stroke="#8a8a8a" stroke-width="0.8"/>
<text transform="translate(29.15,274.25) scale(0.93,1)" font-family="'Liberation Serif','DejaVu Serif',serif" font-size="7.3" text-anchor="end" fill="#1a1a1a">0</text>
<line x1="30.45" y1="245.45" x2="32.25" y2="245.45" stroke="#8a8a8a" stroke-width="0.8"/>
<text transform="translate(29.15,247.9) scale(0.93,1)" font-family="'Liberation Serif','DejaVu Serif',serif" font-size="7.3" text-anchor="end" fill="#1a1a1a">50</text>
<line x1="30.45" y1="219.1" x2="32.25" y2="219.1" stroke="#8a8a8a" stroke-width="0.8"/>
<text transform="translate(29.15,221.55) scale(0.93,1)" font-family="'Liberation Serif','DejaVu Serif',serif" font-size="7.3" text-anchor="end" fill="#1a1a1a">100</text>
<line x1="30.45" y1="192.75" x2="32.25" y2="192.75" stroke="#8a8a8a" stroke-width="0.8"/>
<text transform="translate(29.15,195.2) scale(0.93,1)" font-family="'Liberation Serif','DejaVu Serif',serif" font-size="7.3" text-anchor="end" fill="#1a1a1a">150</text>
<line x1="30.45" y1="166.4" x2="32.25" y2="166.4" stroke="#8a8a8a" stroke-width="0.8"/>
<text transform="translate(29.15,168.85) scale(0.93,1)" font-family="'Liberation Serif','DejaVu Serif',serif" font-size="7.3" text-anchor="end" fill="#1a1a1a">200</text>
<line x1="161.8" y1="165.5" x2="163.6" y2="165.5" stroke="#8a8a8a" stroke-width="0.8"/>
<text transform="translate(164.9,167.95) scale(0.93,1)" font-family="'Liberation Serif','DejaVu Serif',serif" font-size="7.3" fill="#1a1a1a">0</text>
<line x1="161.8" y1="189.99" x2="163.6" y2="189.99" stroke="#8a8a8a" stroke-width="0.8"/>
<text transform="translate(164.9,192.44) scale(0.93,1)" font-family="'Liberation Serif','DejaVu Serif',serif" font-size="7.3" fill="#1a1a1a">20</text>
<line x1="161.8" y1="214.49" x2="163.6" y2="214.49" stroke="#8a8a8a" stroke-width="0.8"/>
<text transform="translate(164.9,216.94) scale(0.93,1)" font-family="'Liberation Serif','DejaVu Serif',serif" font-size="7.3" fill="#1a1a1a">40</text>
<line x1="161.8" y1="238.98" x2="163.6" y2="238.98" stroke="#8a8a8a" stroke-width="0.8"/>
<text transform="translate(164.9,241.43) scale(0.93,1)" font-family="'Liberation Serif','DejaVu Serif',serif" font-size="7.3" fill="#1a1a1a">60</text>
<line x1="161.8" y1="263.47" x2="163.6" y2="263.47" stroke="#8a8a8a" stroke-width="0.8"/>
<text transform="translate(164.9,265.92) scale(0.93,1)" font-family="'Liberation Serif','DejaVu Serif',serif" font-size="7.3" fill="#1a1a1a">80</text>
<line x1="32.25" y1="271.8" x2="32.25" y2="273.6" stroke="#8a8a8a" stroke-width="0.8"/>
<text transform="translate(32.25,279.8) scale(0.93,1)" font-family="'Liberation Serif','DejaVu Serif',serif" font-size="7.3" text-anchor="middle" fill="#1a1a1a">0</text>
<line x1="43.91" y1="271.8" x2="43.91" y2="273.6" stroke="#8a8a8a" stroke-width="0.8"/>
<text transform="translate(43.91,279.8) scale(0.93,1)" font-family="'Liberation Serif','DejaVu Serif',serif" font-size="7.3" text-anchor="middle" fill="#1a1a1a">20</text>
<line x1="55.56" y1="271.8" x2="55.56" y2="273.6" stroke="#8a8a8a" stroke-width="0.8"/>
<text transform="translate(55.56,279.8) scale(0.93,1)" font-family="'Liberation Serif','DejaVu Serif',serif" font-size="7.3" text-anchor="middle" fill="#1a1a1a">40</text>
<line x1="67.22" y1="271.8" x2="67.22" y2="273.6" stroke="#8a8a8a" stroke-width="0.8"/>
<text transform="translate(67.22,279.8) scale(0.93,1)" font-family="'Liberation Serif','DejaVu Serif',serif" font-size="7.3" text-anchor="middle" fill="#1a1a1a">60</text>
<line x1="78.87" y1="271.8" x2="78.87" y2="273.6" stroke="#8a8a8a" stroke-width="0.8"/>
<text transform="translate(78.87,279.8) scale(0.93,1)" font-family="'Liberation Serif','DejaVu Serif',serif" font-size="7.3" text-anchor="middle" fill="#1a1a1a">80</text>
<line x1="90.53" y1="271.8" x2="90.53" y2="273.6" stroke="#8a8a8a" stroke-width="0.8"/>
<text transform="translate(90.53,279.8) scale(0.93,1)" font-family="'Liberation Serif','DejaVu Serif',serif" font-size="7.3" text-anchor="middle" fill="#1a1a1a">100</text>
<line x1="102.18" y1="271.8" x2="102.18" y2="273.6" stroke="#8a8a8a" stroke-width="0.8"/>
<text transform="translate(102.18,279.8) scale(0.93,1)" font-family="'Liberation Serif','DejaVu Serif',serif" font-size="7.3" text-anchor="middle" fill="#1a1a1a">120</text>
<line x1="113.84" y1="271.8" x2="113.84" y2="273.6" stroke="#8a8a8a" stroke-width="0.8"/>
<text transform="translate(113.84,279.8) scale(0.93,1)" font-family="'Liberation Serif','DejaVu Serif',serif" font-size="7.3" text-anchor="middle" fill="#1a1a1a">140</text>
<line x1="125.49" y1="271.8" x2="125.49" y2="273.6" stroke="#8a8a8a" stroke-width="0.8"/>
<text transform="translate(125.49,279.8) scale(0.93,1)" font-family="'Liberation Serif','DejaVu Serif',serif" font-size="7.3" text-anchor="middle" fill="#1a1a1a">160</text>
<line x1="137.15" y1="271.8" x2="137.15" y2="273.6" stroke="#8a8a8a" stroke-width="0.8"/>
<text transform="translate(137.15,279.8) scale(0.93,1)" font-family="'Liberation Serif','DejaVu Serif',serif" font-size="7.3" text-anchor="middle" fill="#1a1a1a">180</text>
<line x1="148.8" y1="271.8" x2="148.8" y2="273.6" stroke="#8a8a8a" stroke-width="0.8"/>
<text transform="translate(148.8,279.8) scale(0.93,1)" font-family="'Liberation Serif','DejaVu Serif',serif" font-size="7.3" text-anchor="middle" fill="#1a1a1a">200</text>
<line x1="160.46" y1="271.8" x2="160.46" y2="273.6" stroke="#8a8a8a" stroke-width="0.8"/>
<text transform="translate(160.46,279.8) scale(0.93,1)" font-family="'Liberation Serif','DejaVu Serif',serif" font-size="7.3" text-anchor="middle" fill="#1a1a1a">220</text>
<text transform="translate(14.55,218.65) rotate(-90)" font-family="'Liberation Serif','DejaVu Serif',serif" font-size="7.3" text-anchor="middle" fill="#1a1a1a">Discharge (<tspan font-family="'DejaVu Sans',sans-serif" font-style="italic" font-size="6.6">m</tspan><tspan font-family="'DejaVu Sans',sans-serif" font-size="4.6" dy="-2.6">3</tspan><tspan font-family="'DejaVu Sans',sans-serif" font-style="italic" font-size="6.6" dy="2.6">/s</tspan>)</text>
<text transform="translate(179.3,218.65) rotate(-90)" font-family="'Liberation Serif','DejaVu Serif',serif" font-size="7.3" text-anchor="middle" fill="#1a1a1a">Rainfall (<tspan font-family="'DejaVu Sans',sans-serif" font-style="italic" font-size="6.6">mm</tspan>)</text>
<text x="97.03" y="290" font-family="'Liberation Serif','DejaVu Serif',serif" font-size="7.3" text-anchor="middle" fill="#1a1a1a">Time (<tspan font-family="'DejaVu Sans',sans-serif" font-style="italic" font-size="6.6">Δt</tspan>)</text>
<clipPath id="clip11"><rect x="213.4" y="165.5" width="130" height="106.3"/></clipPath>
<g clip-path="url(#clip11)">
<rect x="214.04" y="165.5" width="0.54" height="20.29" fill="#085ca8"/>
<rect x="214.63" y="165.5" width="0.54" height="20.29" fill="#085ca8"/>
<rect x="215.21" y="165.5" width="0.54" height="14" fill="#085ca8"/>
<rect x="215.8" y="165.5" width="0.54" height="14" fill="#085ca8"/>
<rect x="216.38" y="165.5" width="0.54" height="1.5" fill="#085ca8"/>
<rect x="216.97" y="165.5" width="0.54" height="1.5" fill="#085ca8"/>
<rect x="229.25" y="165.5" width="0.54" height="5.8" fill="#085ca8"/>
<rect x="229.83" y="165.5" width="0.54" height="5.8" fill="#085ca8"/>
<rect x="230.42" y="165.5" width="0.54" height="5.8" fill="#085ca8"/>
<rect x="231" y="165.5" width="0.54" height="3" fill="#085ca8"/>
<rect x="231.59" y="165.5" width="0.54" height="3" fill="#085ca8"/>
<rect x="232.17" y="165.5" width="0.54" height="5.4" fill="#085ca8"/>
<rect x="232.76" y="165.5" width="0.54" height="5.4" fill="#085ca8"/>
<rect x="233.34" y="165.5" width="0.54" height="5.4" fill="#085ca8"/>
<rect x="233.93" y="165.5" width="0.54" height="5.4" fill="#085ca8"/>
<rect x="234.51" y="165.5" width="0.54" height="5.4" fill="#085ca8"/>
<rect x="246.21" y="165.5" width="0.54" height="8" fill="#085ca8"/>
<rect x="246.79" y="165.5" width="0.54" height="8" fill="#085ca8"/>
<rect x="247.38" y="165.5" width="0.54" height="8" fill="#085ca8"/>
<rect x="257.32" y="165.5" width="0.54" height="19.59" fill="#085ca8"/>
<rect x="257.9" y="165.5" width="0.54" height="19.59" fill="#085ca8"/>
<rect x="258.49" y="165.5" width="0.54" height="12" fill="#085ca8"/>
<rect x="259.07" y="165.5" width="0.54" height="3.6" fill="#085ca8"/>
<rect x="259.66" y="165.5" width="0.54" height="3.6" fill="#085ca8"/>
<rect x="260.24" y="165.5" width="0.54" height="1.4" fill="#085ca8"/>
<rect x="260.83" y="165.5" width="0.54" height="1.4" fill="#085ca8"/>
<rect x="261.41" y="165.5" width="0.54" height="1.4" fill="#085ca8"/>
<rect x="262" y="165.5" width="0.54" height="1.4" fill="#085ca8"/>
<rect x="270.77" y="165.5" width="0.54" height="9" fill="#085ca8"/>
<rect x="271.35" y="165.5" width="0.54" height="9" fill="#085ca8"/>
<rect x="271.94" y="165.5" width="0.54" height="9" fill="#085ca8"/>
<rect x="286.56" y="165.5" width="0.54" height="14.4" fill="#085ca8"/>
<rect x="287.14" y="165.5" width="0.54" height="14.4" fill="#085ca8"/>
<rect x="287.73" y="165.5" width="0.54" height="14.4" fill="#085ca8"/>
<rect x="288.31" y="165.5" width="0.54" height="4" fill="#085ca8"/>
<rect x="288.9" y="165.5" width="0.54" height="4" fill="#085ca8"/>
<rect x="289.48" y="165.5" width="0.54" height="8" fill="#085ca8"/>
<rect x="290.07" y="165.5" width="0.54" height="8" fill="#085ca8"/>
<rect x="290.65" y="165.5" width="0.54" height="8" fill="#085ca8"/>
<rect x="291.24" y="165.5" width="0.54" height="1.5" fill="#085ca8"/>
<rect x="291.82" y="165.5" width="0.54" height="1.5" fill="#085ca8"/>
<rect x="292.41" y="165.5" width="0.54" height="1.5" fill="#085ca8"/>
<rect x="337.44" y="165.5" width="0.54" height="3" fill="#085ca8"/>
<rect x="338.02" y="165.5" width="0.54" height="3" fill="#085ca8"/>
<path d="M213.45,261.51 L215.26,258.29 L216.16,243.36 L216.96,211.29 L217.87,192.03 L218.47,191.02 L219.07,198.38 L220.17,213.41 L221.68,225.11 L223.79,234.69 L225.49,243.36 L227,246.49 L228.5,250.82 L230.21,251.83 L232.22,249.71 L233.32,250.82 L234.42,244.37 L235.43,236.91 L236.53,234.38 L237.63,236.5 L239.04,241.14 L240.74,242.25 L242.95,245.48 L245.06,249.71 L247.17,251.83 L248.87,247.6 L250.38,236.91 L251.38,243.36 L252.49,247.6 L254.59,247.6 L256.7,249.71 L258.21,249.71 L259.51,217.64 L260.31,209.17 L261.62,219.86 L263.42,226.11 L265.53,230.35 L267.64,236.81 L269.85,241.04 L272.35,242.76 L273.66,233.58 L274.66,229.34 L275.77,230.35 L276.57,236.81 L278.27,240.03 L281.49,244.27 L284.7,247.5 L286.9,250.42 L288.51,245.28 L289.51,242.15 L290.62,228.23 L291.62,218.65 L292.72,215.42 L294.23,218.65 L297.34,226.11 L301.66,234.69 L305.87,243.16 L311.19,247.5 L316.51,251.73 L322.83,254.96 L329.25,257.08 L335.57,259.19 L338.78,259.8 L340.89,259.19 L343.4,259.8" fill="none" stroke="#1a1a1a" stroke-width="1.2" stroke-linejoin="round"/>
<path d="M216.3,257 L217.2,243.5 L218.2,255 L219.1,270.7 L220,271.3 L230,271.3 L232,266.5 L234,265.5 L236,267 L237.5,271.3 L246,271.3 L248,264.7 L250,271.3 L256,271.3 L258.5,254 L260,268 L261,271.3 L270,271.3 L273.3,265.6 L275,271.3 L286,271.3 L288.5,262.5 L290,266 L292.5,262.5 L294,271.3 L343.4,271.3" fill="none" stroke="#2a2aff" stroke-width="1.05" stroke-dasharray="2.1,1.05"/>
<path d="M216.32,246.44 L216.51,243.36 L217.31,211.29 L218.22,192.03 L218.82,191.02 L219.42,198.38 L220.52,213.41 L222.03,225.11 L224.14,234.69 L225.84,243.36 L227.35,246.49 L228.85,250.82 L230.56,251.83 L232.57,249.71 L233.67,250.82 L234.77,244.37 L235.78,236.91 L236.88,234.38 L237.98,236.5 L239.39,241.14 L241.1,242.25 L243.3,245.48 L245.41,249.71 L247.52,251.83 L249.22,247.6 L250.73,236.91 L251.73,243.36 L252.84,247.6 L254.94,247.6 L257.05,249.71 L258.56,249.71 L259.86,217.64 L260.66,209.17 L261.97,219.86 L263.77,226.11 L265.88,230.35 L267.99,236.81 L270.2,241.04 L272.7,242.76 L274.01,233.58 L275.01,229.34 L276.12,230.35 L276.92,236.81 L278.63,240.03 L281.84,244.27 L285.05,247.5 L287.26,250.42 L288.86,245.28 L289.86,242.15 L290.97,228.23 L291.97,218.65 L293.08,215.42 L294.58,218.65 L297.69,226.11 L302.01,234.69 L306.22,243.16 L311.54,247.5 L316.86,251.73 L323.18,254.96 L329.6,257.08 L335.92,259.19 L339.13,259.8 L341.24,259.19 L343.75,259.8" fill="none" stroke="#0a8a0a" stroke-width="1.05" stroke-dasharray="2.1,1.05"/>
<path d="M216.32,241.46 L217.08,211.29 L217.9,205.8 L218.9,191.9 L220,205 L220.29,213.41 L221.8,225.11 L223.9,234.69 L225.61,243.36 L227.11,246.49 L228.62,250.82 L230.33,251.83 L232.33,249.71 L233.44,250.82 L234.54,244.37 L235.54,236.91 L236.65,234.38 L237.75,236.5 L239.16,241.14 L240.86,242.25 L243.07,245.48 L245.18,249.71 L247.28,251.83 L248.99,247.6 L250.49,236.91 L251.5,243.36 L252.6,247.6 L254.71,247.6 L256.82,249.71 L258.32,249.71 L259.6,222 L260.4,207.7 L261.4,218 L261.73,219.86 L263.54,226.11 L265.65,230.35 L267.75,236.81 L269.96,241.04 L272.47,242.76 L273.78,233.58 L274.78,229.34 L275.88,230.35 L276.69,236.81 L278.39,240.03 L281.6,244.27 L284.81,247.5 L287.02,250.42 L288.63,245.28 L289.63,242.15 L290.73,228.23 L291.74,218.65 L292.84,215.42 L294.35,218.65 L297.46,226.11 L301.77,234.69 L305.99,243.16 L311.31,247.5 L316.62,251.73 L322.95,254.96 L329.37,257.08 L335.69,259.19 L338.9,259.8 L341.01,259.19 L343.52,259.8" fill="none" stroke="#ff2020" stroke-width="1.05" stroke-dasharray="2.1,1.05"/>
</g>
<rect x="213.4" y="165.5" width="130" height="106.3" fill="none" stroke="#8a8a8a" stroke-width="1.1"/>
<line x1="211.6" y1="271.8" x2="213.4" y2="271.8" stroke="#8a8a8a" stroke-width="0.8"/>
<text transform="translate(210.3,274.25) scale(0.93,1)" font-family="'Liberation Serif','DejaVu Serif',serif" font-size="7.3" text-anchor="end" fill="#1a1a1a">0</text>
<line x1="211.6" y1="245.23" x2="213.4" y2="245.23" stroke="#8a8a8a" stroke-width="0.8"/>
<text transform="translate(210.3,247.68) scale(0.93,1)" font-family="'Liberation Serif','DejaVu Serif',serif" font-size="7.3" text-anchor="end" fill="#1a1a1a">50</text>
<line x1="211.6" y1="218.65" x2="213.4" y2="218.65" stroke="#8a8a8a" stroke-width="0.8"/>
<text transform="translate(210.3,221.1) scale(0.93,1)" font-family="'Liberation Serif','DejaVu Serif',serif" font-size="7.3" text-anchor="end" fill="#1a1a1a">100</text>
<line x1="211.6" y1="192.07" x2="213.4" y2="192.07" stroke="#8a8a8a" stroke-width="0.8"/>
<text transform="translate(210.3,194.52) scale(0.93,1)" font-family="'Liberation Serif','DejaVu Serif',serif" font-size="7.3" text-anchor="end" fill="#1a1a1a">150</text>
<line x1="211.6" y1="165.5" x2="213.4" y2="165.5" stroke="#8a8a8a" stroke-width="0.8"/>
<text transform="translate(210.3,167.95) scale(0.93,1)" font-family="'Liberation Serif','DejaVu Serif',serif" font-size="7.3" text-anchor="end" fill="#1a1a1a">200</text>
<line x1="343.4" y1="165.5" x2="345.2" y2="165.5" stroke="#8a8a8a" stroke-width="0.8"/>
<text transform="translate(346.5,167.95) scale(0.93,1)" font-family="'Liberation Serif','DejaVu Serif',serif" font-size="7.3" fill="#1a1a1a">0</text>
<line x1="343.4" y1="189.99" x2="345.2" y2="189.99" stroke="#8a8a8a" stroke-width="0.8"/>
<text transform="translate(346.5,192.44) scale(0.93,1)" font-family="'Liberation Serif','DejaVu Serif',serif" font-size="7.3" fill="#1a1a1a">20</text>
<line x1="343.4" y1="214.49" x2="345.2" y2="214.49" stroke="#8a8a8a" stroke-width="0.8"/>
<text transform="translate(346.5,216.94) scale(0.93,1)" font-family="'Liberation Serif','DejaVu Serif',serif" font-size="7.3" fill="#1a1a1a">40</text>
<line x1="343.4" y1="238.98" x2="345.2" y2="238.98" stroke="#8a8a8a" stroke-width="0.8"/>
<text transform="translate(346.5,241.43) scale(0.93,1)" font-family="'Liberation Serif','DejaVu Serif',serif" font-size="7.3" fill="#1a1a1a">60</text>
<line x1="343.4" y1="263.47" x2="345.2" y2="263.47" stroke="#8a8a8a" stroke-width="0.8"/>
<text transform="translate(346.5,265.92) scale(0.93,1)" font-family="'Liberation Serif','DejaVu Serif',serif" font-size="7.3" fill="#1a1a1a">80</text>
<line x1="213.4" y1="271.8" x2="213.4" y2="273.6" stroke="#8a8a8a" stroke-width="0.8"/>
<text transform="translate(213.4,279.8) scale(0.93,1)" font-family="'Liberation Serif','DejaVu Serif',serif" font-size="7.3" text-anchor="middle" fill="#1a1a1a">0</text>
<line x1="225.1" y1="271.8" x2="225.1" y2="273.6" stroke="#8a8a8a" stroke-width="0.8"/>
<text transform="translate(225.1,279.8) scale(0.93,1)" font-family="'Liberation Serif','DejaVu Serif',serif" font-size="7.3" text-anchor="middle" fill="#1a1a1a">20</text>
<line x1="236.79" y1="271.8" x2="236.79" y2="273.6" stroke="#8a8a8a" stroke-width="0.8"/>
<text transform="translate(236.79,279.8) scale(0.93,1)" font-family="'Liberation Serif','DejaVu Serif',serif" font-size="7.3" text-anchor="middle" fill="#1a1a1a">40</text>
<line x1="248.49" y1="271.8" x2="248.49" y2="273.6" stroke="#8a8a8a" stroke-width="0.8"/>
<text transform="translate(248.49,279.8) scale(0.93,1)" font-family="'Liberation Serif','DejaVu Serif',serif" font-size="7.3" text-anchor="middle" fill="#1a1a1a">60</text>
<line x1="260.18" y1="271.8" x2="260.18" y2="273.6" stroke="#8a8a8a" stroke-width="0.8"/>
<text transform="translate(260.18,279.8) scale(0.93,1)" font-family="'Liberation Serif','DejaVu Serif',serif" font-size="7.3" text-anchor="middle" fill="#1a1a1a">80</text>
<line x1="271.88" y1="271.8" x2="271.88" y2="273.6" stroke="#8a8a8a" stroke-width="0.8"/>
<text transform="translate(271.88,279.8) scale(0.93,1)" font-family="'Liberation Serif','DejaVu Serif',serif" font-size="7.3" text-anchor="middle" fill="#1a1a1a">100</text>
<line x1="283.58" y1="271.8" x2="283.58" y2="273.6" stroke="#8a8a8a" stroke-width="0.8"/>
<text transform="translate(283.58,279.8) scale(0.93,1)" font-family="'Liberation Serif','DejaVu Serif',serif" font-size="7.3" text-anchor="middle" fill="#1a1a1a">120</text>
<line x1="295.27" y1="271.8" x2="295.27" y2="273.6" stroke="#8a8a8a" stroke-width="0.8"/>
<text transform="translate(295.27,279.8) scale(0.93,1)" font-family="'Liberation Serif','DejaVu Serif',serif" font-size="7.3" text-anchor="middle" fill="#1a1a1a">140</text>
<line x1="306.97" y1="271.8" x2="306.97" y2="273.6" stroke="#8a8a8a" stroke-width="0.8"/>
<text transform="translate(306.97,279.8) scale(0.93,1)" font-family="'Liberation Serif','DejaVu Serif',serif" font-size="7.3" text-anchor="middle" fill="#1a1a1a">160</text>
<line x1="318.66" y1="271.8" x2="318.66" y2="273.6" stroke="#8a8a8a" stroke-width="0.8"/>
<text transform="translate(318.66,279.8) scale(0.93,1)" font-family="'Liberation Serif','DejaVu Serif',serif" font-size="7.3" text-anchor="middle" fill="#1a1a1a">180</text>
<line x1="330.36" y1="271.8" x2="330.36" y2="273.6" stroke="#8a8a8a" stroke-width="0.8"/>
<text transform="translate(330.36,279.8) scale(0.93,1)" font-family="'Liberation Serif','DejaVu Serif',serif" font-size="7.3" text-anchor="middle" fill="#1a1a1a">200</text>
<line x1="342.05" y1="271.8" x2="342.05" y2="273.6" stroke="#8a8a8a" stroke-width="0.8"/>
<text transform="translate(342.05,279.8) scale(0.93,1)" font-family="'Liberation Serif','DejaVu Serif',serif" font-size="7.3" text-anchor="middle" fill="#1a1a1a">220</text>
<text transform="translate(195.7,218.65) rotate(-90)" font-family="'Liberation Serif','DejaVu Serif',serif" font-size="7.3" text-anchor="middle" fill="#1a1a1a">Discharge (<tspan font-family="'DejaVu Sans',sans-serif" font-style="italic" font-size="6.6">m</tspan><tspan font-family="'DejaVu Sans',sans-serif" font-size="4.6" dy="-2.6">3</tspan><tspan font-family="'DejaVu Sans',sans-serif" font-style="italic" font-size="6.6" dy="2.6">/s</tspan>)</text>
<text transform="translate(360.9,218.65) rotate(-90)" font-family="'Liberation Serif','DejaVu Serif',serif" font-size="7.3" text-anchor="middle" fill="#1a1a1a">Rainfall (<tspan font-family="'DejaVu Sans',sans-serif" font-style="italic" font-size="6.6">mm</tspan>)</text>
<text x="278.4" y="290" font-family="'Liberation Serif','DejaVu Serif',serif" font-size="7.3" text-anchor="middle" fill="#1a1a1a">Time (<tspan font-family="'DejaVu Sans',sans-serif" font-style="italic" font-size="6.6">Δt</tspan>)</text>
<clipPath id="clip12"><rect x="394.9" y="165.5" width="130.3" height="106.3"/></clipPath>
<g clip-path="url(#clip12)">
<rect x="395.54" y="165.5" width="0.54" height="20.29" fill="#085ca8"/>
<rect x="396.13" y="165.5" width="0.54" height="20.29" fill="#085ca8"/>
<rect x="396.72" y="165.5" width="0.54" height="14" fill="#085ca8"/>
<rect x="397.3" y="165.5" width="0.54" height="14" fill="#085ca8"/>
<rect x="397.89" y="165.5" width="0.54" height="1.5" fill="#085ca8"/>
<rect x="398.48" y="165.5" width="0.54" height="1.5" fill="#085ca8"/>
<rect x="410.78" y="165.5" width="0.54" height="5.8" fill="#085ca8"/>
<rect x="411.37" y="165.5" width="0.54" height="5.8" fill="#085ca8"/>
<rect x="411.96" y="165.5" width="0.54" height="5.8" fill="#085ca8"/>
<rect x="412.54" y="165.5" width="0.54" height="3" fill="#085ca8"/>
<rect x="413.13" y="165.5" width="0.54" height="3" fill="#085ca8"/>
<rect x="413.72" y="165.5" width="0.54" height="5.4" fill="#085ca8"/>
<rect x="414.3" y="165.5" width="0.54" height="5.4" fill="#085ca8"/>
<rect x="414.89" y="165.5" width="0.54" height="5.4" fill="#085ca8"/>
<rect x="415.47" y="165.5" width="0.54" height="5.4" fill="#085ca8"/>
<rect x="416.06" y="165.5" width="0.54" height="5.4" fill="#085ca8"/>
<rect x="427.78" y="165.5" width="0.54" height="8" fill="#085ca8"/>
<rect x="428.37" y="165.5" width="0.54" height="8" fill="#085ca8"/>
<rect x="428.96" y="165.5" width="0.54" height="8" fill="#085ca8"/>
<rect x="438.92" y="165.5" width="0.54" height="19.59" fill="#085ca8"/>
<rect x="439.51" y="165.5" width="0.54" height="19.59" fill="#085ca8"/>
<rect x="440.09" y="165.5" width="0.54" height="12" fill="#085ca8"/>
<rect x="440.68" y="165.5" width="0.54" height="3.6" fill="#085ca8"/>
<rect x="441.26" y="165.5" width="0.54" height="3.6" fill="#085ca8"/>
<rect x="441.85" y="165.5" width="0.54" height="1.4" fill="#085ca8"/>
<rect x="442.44" y="165.5" width="0.54" height="1.4" fill="#085ca8"/>
<rect x="443.02" y="165.5" width="0.54" height="1.4" fill="#085ca8"/>
<rect x="443.61" y="165.5" width="0.54" height="1.4" fill="#085ca8"/>
<rect x="452.4" y="165.5" width="0.54" height="9" fill="#085ca8"/>
<rect x="452.99" y="165.5" width="0.54" height="9" fill="#085ca8"/>
<rect x="453.57" y="165.5" width="0.54" height="9" fill="#085ca8"/>
<rect x="468.23" y="165.5" width="0.54" height="14.4" fill="#085ca8"/>
<rect x="468.81" y="165.5" width="0.54" height="14.4" fill="#085ca8"/>
<rect x="469.4" y="165.5" width="0.54" height="14.4" fill="#085ca8"/>
<rect x="469.99" y="165.5" width="0.54" height="4" fill="#085ca8"/>
<rect x="470.57" y="165.5" width="0.54" height="4" fill="#085ca8"/>
<rect x="471.16" y="165.5" width="0.54" height="8" fill="#085ca8"/>
<rect x="471.74" y="165.5" width="0.54" height="8" fill="#085ca8"/>
<rect x="472.33" y="165.5" width="0.54" height="8" fill="#085ca8"/>
<rect x="472.92" y="165.5" width="0.54" height="1.5" fill="#085ca8"/>
<rect x="473.5" y="165.5" width="0.54" height="1.5" fill="#085ca8"/>
<rect x="474.09" y="165.5" width="0.54" height="1.5" fill="#085ca8"/>
<rect x="519.22" y="165.5" width="0.54" height="3" fill="#085ca8"/>
<rect x="519.81" y="165.5" width="0.54" height="3" fill="#085ca8"/>
<path d="M394.95,261.55 L396.76,258.34 L397.67,243.47 L398.47,211.53 L399.38,192.35 L399.98,191.34 L400.58,198.67 L401.69,213.64 L403.2,225.29 L405.31,234.84 L407.02,243.47 L408.53,246.59 L410.04,250.91 L411.75,251.91 L413.76,249.8 L414.86,250.91 L415.97,244.48 L416.98,237.04 L418.08,234.53 L419.19,236.64 L420.6,241.26 L422.31,242.37 L424.52,245.58 L426.63,249.8 L428.74,251.91 L430.45,247.69 L431.96,237.04 L432.97,243.47 L434.08,247.69 L436.19,247.69 L438.3,249.8 L439.81,249.8 L441.12,217.86 L441.92,209.42 L443.23,220.07 L445.04,226.3 L447.15,230.52 L449.26,236.94 L451.48,241.16 L453.99,242.87 L455.3,233.73 L456.3,229.51 L457.41,230.52 L458.21,236.94 L459.92,240.16 L463.14,244.38 L466.36,247.59 L468.57,250.5 L470.18,245.38 L471.19,242.27 L472.3,228.41 L473.3,218.86 L474.41,215.65 L475.92,218.86 L479.03,226.3 L483.36,234.84 L487.58,243.27 L492.91,247.59 L498.24,251.81 L504.58,255.03 L511.02,257.13 L517.35,259.24 L520.57,259.85 L522.69,259.24 L525.2,259.85" fill="none" stroke="#1a1a1a" stroke-width="1.2" stroke-linejoin="round"/>
<path d="M399,262 L399.6,215 L400.1,203 L400.8,215 L401.5,240 L402.3,262 L403,270 L404,271.3 L411,271.3 L413.5,266.5 L416.5,263.5 L418.5,268 L420,271.3 L428,271.3 L431,264.5 L433,271.3 L437,271.3 L440,250 L441.5,262 L443,268 L445,271.3 L452,271.3 L455,265.5 L457,271.3 L468,271.3 L470.5,262 L473,258.2 L475,265 L477,271.3 L525.2,271.3" fill="none" stroke="#2a2aff" stroke-width="1.05" stroke-dasharray="2.1,1.05"/>
<path d="M399,223.1 L399.3,215 L400.3,199.8 L401.5,206 L403,220 L403.9,225.29 L406.01,234.84 L407.72,243.47 L409.23,246.59 L410.74,250.91 L412.45,251.91 L414.46,249.8 L415.57,250.91 L416.67,244.48 L417.68,237.04 L418.79,234.53 L419.89,236.64 L421.3,241.26 L423.01,242.37 L425.22,245.58 L427.34,249.8 L429.45,251.91 L431.16,247.69 L432.67,237.04 L433.67,243.47 L434.78,247.69 L436.89,247.69 L439,249.8 L440.51,249.8 L440.6,245 L441.6,225 L442.8,217.6 L444,222 L445,230.9 L449.6,240 L454.2,244.7 L456,241 L457.6,236 L459.9,241.5 L464.5,247.5 L469.1,251 L471.4,246.49 L473.2,233.91 L475.5,224.37 L477.5,224.9 L479.5,227.9 L479.74,226.7 L484.06,235.24 L488.29,243.67 L493.62,247.99 L498.95,252.21 L505.28,255.43 L511.72,257.53 L518.06,259.64 L521.28,260.25 L523.39,259.64 L525.9,260.25" fill="none" stroke="#0a8a0a" stroke-width="1.05" stroke-dasharray="2.1,1.05"/>
<path d="M399,197.99 L399.3,190.9 L400.5,205 L400.82,198.67 L401.92,213.64 L403.43,225.29 L405.54,234.84 L407.25,243.47 L408.76,246.59 L410.27,250.91 L411.98,251.91 L413.99,249.8 L415.1,250.91 L416.21,244.48 L417.21,237.04 L418.32,234.53 L419.42,236.64 L420.83,241.26 L422.54,242.37 L424.75,245.58 L426.87,249.8 L428.98,251.91 L430.69,247.69 L432.2,237.04 L433.2,243.47 L434.31,247.69 L436.42,247.69 L438.53,249.8 L440.04,249.8 L440.8,225 L441.4,208.7 L442.5,218 L443.46,220.07 L445.27,226.3 L447.39,230.52 L449.5,236.94 L451.71,241.16 L453.6,244.1 L455.5,240 L457.6,233.7 L459.9,240.6 L464.5,246.4 L468.6,251 L470.3,241.02 L472.5,230.17 L475.1,220.34 L477,222.9 L479.5,227.2 L483.59,235.24 L487.82,243.67 L493.15,247.99 L498.48,252.21 L504.82,255.43 L511.25,257.53 L517.59,259.64 L520.81,260.25 L522.92,259.64 L525.43,260.25" fill="none" stroke="#ff2020" stroke-width="1.05" stroke-dasharray="2.1,1.05"/>
</g>
<rect x="394.9" y="165.5" width="130.3" height="106.3" fill="none" stroke="#8a8a8a" stroke-width="1.1"/>
<line x1="393.1" y1="271.8" x2="394.9" y2="271.8" stroke="#8a8a8a" stroke-width="0.8"/>
<text transform="translate(391.8,274.25) scale(0.93,1)" font-family="'Liberation Serif','DejaVu Serif',serif" font-size="7.3" text-anchor="end" fill="#1a1a1a">0</text>
<line x1="393.1" y1="245.33" x2="394.9" y2="245.33" stroke="#8a8a8a" stroke-width="0.8"/>
<text transform="translate(391.8,247.78) scale(0.93,1)" font-family="'Liberation Serif','DejaVu Serif',serif" font-size="7.3" text-anchor="end" fill="#1a1a1a">50</text>
<line x1="393.1" y1="218.86" x2="394.9" y2="218.86" stroke="#8a8a8a" stroke-width="0.8"/>
<text transform="translate(391.8,221.31) scale(0.93,1)" font-family="'Liberation Serif','DejaVu Serif',serif" font-size="7.3" text-anchor="end" fill="#1a1a1a">100</text>
<line x1="393.1" y1="192.39" x2="394.9" y2="192.39" stroke="#8a8a8a" stroke-width="0.8"/>
<text transform="translate(391.8,194.84) scale(0.93,1)" font-family="'Liberation Serif','DejaVu Serif',serif" font-size="7.3" text-anchor="end" fill="#1a1a1a">150</text>
<line x1="393.1" y1="165.92" x2="394.9" y2="165.92" stroke="#8a8a8a" stroke-width="0.8"/>
<text transform="translate(391.8,168.37) scale(0.93,1)" font-family="'Liberation Serif','DejaVu Serif',serif" font-size="7.3" text-anchor="end" fill="#1a1a1a">200</text>
<line x1="525.2" y1="165.5" x2="527" y2="165.5" stroke="#8a8a8a" stroke-width="0.8"/>
<text transform="translate(528.3,167.95) scale(0.93,1)" font-family="'Liberation Serif','DejaVu Serif',serif" font-size="7.3" fill="#1a1a1a">0</text>
<line x1="525.2" y1="189.99" x2="527" y2="189.99" stroke="#8a8a8a" stroke-width="0.8"/>
<text transform="translate(528.3,192.44) scale(0.93,1)" font-family="'Liberation Serif','DejaVu Serif',serif" font-size="7.3" fill="#1a1a1a">20</text>
<line x1="525.2" y1="214.49" x2="527" y2="214.49" stroke="#8a8a8a" stroke-width="0.8"/>
<text transform="translate(528.3,216.94) scale(0.93,1)" font-family="'Liberation Serif','DejaVu Serif',serif" font-size="7.3" fill="#1a1a1a">40</text>
<line x1="525.2" y1="238.98" x2="527" y2="238.98" stroke="#8a8a8a" stroke-width="0.8"/>
<text transform="translate(528.3,241.43) scale(0.93,1)" font-family="'Liberation Serif','DejaVu Serif',serif" font-size="7.3" fill="#1a1a1a">60</text>
<line x1="525.2" y1="263.47" x2="527" y2="263.47" stroke="#8a8a8a" stroke-width="0.8"/>
<text transform="translate(528.3,265.92) scale(0.93,1)" font-family="'Liberation Serif','DejaVu Serif',serif" font-size="7.3" fill="#1a1a1a">80</text>
<line x1="394.9" y1="271.8" x2="394.9" y2="273.6" stroke="#8a8a8a" stroke-width="0.8"/>
<text transform="translate(394.9,279.8) scale(0.93,1)" font-family="'Liberation Serif','DejaVu Serif',serif" font-size="7.3" text-anchor="middle" fill="#1a1a1a">0</text>
<line x1="406.62" y1="271.8" x2="406.62" y2="273.6" stroke="#8a8a8a" stroke-width="0.8"/>
<text transform="translate(406.62,279.8) scale(0.93,1)" font-family="'Liberation Serif','DejaVu Serif',serif" font-size="7.3" text-anchor="middle" fill="#1a1a1a">20</text>
<line x1="418.35" y1="271.8" x2="418.35" y2="273.6" stroke="#8a8a8a" stroke-width="0.8"/>
<text transform="translate(418.35,279.8) scale(0.93,1)" font-family="'Liberation Serif','DejaVu Serif',serif" font-size="7.3" text-anchor="middle" fill="#1a1a1a">40</text>
<line x1="430.07" y1="271.8" x2="430.07" y2="273.6" stroke="#8a8a8a" stroke-width="0.8"/>
<text transform="translate(430.07,279.8) scale(0.93,1)" font-family="'Liberation Serif','DejaVu Serif',serif" font-size="7.3" text-anchor="middle" fill="#1a1a1a">60</text>
<line x1="441.79" y1="271.8" x2="441.79" y2="273.6" stroke="#8a8a8a" stroke-width="0.8"/>
<text transform="translate(441.79,279.8) scale(0.93,1)" font-family="'Liberation Serif','DejaVu Serif',serif" font-size="7.3" text-anchor="middle" fill="#1a1a1a">80</text>
<line x1="453.51" y1="271.8" x2="453.51" y2="273.6" stroke="#8a8a8a" stroke-width="0.8"/>
<text transform="translate(453.51,279.8) scale(0.93,1)" font-family="'Liberation Serif','DejaVu Serif',serif" font-size="7.3" text-anchor="middle" fill="#1a1a1a">100</text>
<line x1="465.24" y1="271.8" x2="465.24" y2="273.6" stroke="#8a8a8a" stroke-width="0.8"/>
<text transform="translate(465.24,279.8) scale(0.93,1)" font-family="'Liberation Serif','DejaVu Serif',serif" font-size="7.3" text-anchor="middle" fill="#1a1a1a">120</text>
<line x1="476.96" y1="271.8" x2="476.96" y2="273.6" stroke="#8a8a8a" stroke-width="0.8"/>
<text transform="translate(476.96,279.8) scale(0.93,1)" font-family="'Liberation Serif','DejaVu Serif',serif" font-size="7.3" text-anchor="middle" fill="#1a1a1a">140</text>
<line x1="488.68" y1="271.8" x2="488.68" y2="273.6" stroke="#8a8a8a" stroke-width="0.8"/>
<text transform="translate(488.68,279.8) scale(0.93,1)" font-family="'Liberation Serif','DejaVu Serif',serif" font-size="7.3" text-anchor="middle" fill="#1a1a1a">160</text>
<line x1="500.41" y1="271.8" x2="500.41" y2="273.6" stroke="#8a8a8a" stroke-width="0.8"/>
<text transform="translate(500.41,279.8) scale(0.93,1)" font-family="'Liberation Serif','DejaVu Serif',serif" font-size="7.3" text-anchor="middle" fill="#1a1a1a">180</text>
<line x1="512.13" y1="271.8" x2="512.13" y2="273.6" stroke="#8a8a8a" stroke-width="0.8"/>
<text transform="translate(512.13,279.8) scale(0.93,1)" font-family="'Liberation Serif','DejaVu Serif',serif" font-size="7.3" text-anchor="middle" fill="#1a1a1a">200</text>
<line x1="523.85" y1="271.8" x2="523.85" y2="273.6" stroke="#8a8a8a" stroke-width="0.8"/>
<text transform="translate(523.85,279.8) scale(0.93,1)" font-family="'Liberation Serif','DejaVu Serif',serif" font-size="7.3" text-anchor="middle" fill="#1a1a1a">220</text>
<text transform="translate(377.2,218.65) rotate(-90)" font-family="'Liberation Serif','DejaVu Serif',serif" font-size="7.3" text-anchor="middle" fill="#1a1a1a">Discharge (<tspan font-family="'DejaVu Sans',sans-serif" font-style="italic" font-size="6.6">m</tspan><tspan font-family="'DejaVu Sans',sans-serif" font-size="4.6" dy="-2.6">3</tspan><tspan font-family="'DejaVu Sans',sans-serif" font-style="italic" font-size="6.6" dy="2.6">/s</tspan>)</text>
<text transform="translate(542.7,218.65) rotate(-90)" font-family="'Liberation Serif','DejaVu Serif',serif" font-size="7.3" text-anchor="middle" fill="#1a1a1a">Rainfall (<tspan font-family="'DejaVu Sans',sans-serif" font-style="italic" font-size="6.6">mm</tspan>)</text>
<text x="460.05" y="290" font-family="'Liberation Serif','DejaVu Serif',serif" font-size="7.3" text-anchor="middle" fill="#1a1a1a">Time (<tspan font-family="'DejaVu Sans',sans-serif" font-style="italic" font-size="6.6">Δt</tspan>)</text>
<clipPath id="clip20"><rect x="32.25" y="301.4" width="129.55" height="106.8"/></clipPath>
<g clip-path="url(#clip20)">
<rect x="32.32" y="301.4" width="0.66" height="1.9" fill="#085ca8"/>
<rect x="33.04" y="301.4" width="0.66" height="1.9" fill="#085ca8"/>
<rect x="33.75" y="301.4" width="0.66" height="1.9" fill="#085ca8"/>
<rect x="34.46" y="301.4" width="0.66" height="2.5" fill="#085ca8"/>
<rect x="35.18" y="301.4" width="0.66" height="2.5" fill="#085ca8"/>
<rect x="35.89" y="301.4" width="0.66" height="2.5" fill="#085ca8"/>
<rect x="38.75" y="301.4" width="0.66" height="12.4" fill="#085ca8"/>
<rect x="39.46" y="301.4" width="0.66" height="12.4" fill="#085ca8"/>
<rect x="40.18" y="301.4" width="0.66" height="5.1" fill="#085ca8"/>
<rect x="40.89" y="301.4" width="0.66" height="5.1" fill="#085ca8"/>
<rect x="41.61" y="301.4" width="0.66" height="21.11" fill="#085ca8"/>
<rect x="42.32" y="301.4" width="0.66" height="21.11" fill="#085ca8"/>
<rect x="43.03" y="301.4" width="0.66" height="1.5" fill="#085ca8"/>
<rect x="43.75" y="301.4" width="0.66" height="1.5" fill="#085ca8"/>
<rect x="51.6" y="301.4" width="0.66" height="6.2" fill="#085ca8"/>
<rect x="52.32" y="301.4" width="0.66" height="6.2" fill="#085ca8"/>
<rect x="53.03" y="301.4" width="0.66" height="3" fill="#085ca8"/>
<rect x="53.75" y="301.4" width="0.66" height="14.2" fill="#085ca8"/>
<rect x="54.46" y="301.4" width="0.66" height="14.2" fill="#085ca8"/>
<rect x="55.17" y="301.4" width="0.66" height="5.9" fill="#085ca8"/>
<rect x="55.89" y="301.4" width="0.66" height="5.9" fill="#085ca8"/>
<rect x="56.6" y="301.4" width="0.66" height="15.71" fill="#085ca8"/>
<rect x="57.32" y="301.4" width="0.66" height="15.71" fill="#085ca8"/>
<rect x="58.03" y="301.4" width="0.66" height="1.5" fill="#085ca8"/>
<rect x="58.75" y="301.4" width="0.66" height="1.5" fill="#085ca8"/>
<rect x="63.74" y="301.4" width="0.66" height="5.9" fill="#085ca8"/>
<rect x="64.46" y="301.4" width="0.66" height="5.9" fill="#085ca8"/>
<rect x="65.17" y="301.4" width="0.66" height="11.3" fill="#085ca8"/>
<rect x="65.89" y="301.4" width="0.66" height="11.3" fill="#085ca8"/>
<rect x="66.6" y="301.4" width="0.66" height="11.3" fill="#085ca8"/>
<rect x="67.32" y="301.4" width="0.66" height="3" fill="#085ca8"/>
<rect x="68.03" y="301.4" width="0.66" height="3" fill="#085ca8"/>
<rect x="76.6" y="301.4" width="0.66" height="4.4" fill="#085ca8"/>
<rect x="77.31" y="301.4" width="0.66" height="12.1" fill="#085ca8"/>
<rect x="78.03" y="301.4" width="0.66" height="1.5" fill="#085ca8"/>
<rect x="78.74" y="301.4" width="0.66" height="1.5" fill="#085ca8"/>
<rect x="79.46" y="301.4" width="0.66" height="1.5" fill="#085ca8"/>
<rect x="83.03" y="301.4" width="0.66" height="1.5" fill="#085ca8"/>
<rect x="83.74" y="301.4" width="0.66" height="1.5" fill="#085ca8"/>
<rect x="84.46" y="301.4" width="0.66" height="3.7" fill="#085ca8"/>
<rect x="85.17" y="301.4" width="0.66" height="3.7" fill="#085ca8"/>
<rect x="85.88" y="301.4" width="0.66" height="3.7" fill="#085ca8"/>
<path d="M32.3,399.3 L39.5,399.3 L41.6,395.1 L43.1,389.7 L44.2,369.4 L45.2,341.6 L46,340.5 L46.6,345.8 L47.4,356.6 L49.1,367.3 L51.2,375.8 L53.4,380.1 L54.4,381.2 L55.5,378 L56.6,367.3 L57.6,350.2 L58.7,337.4 L60.4,326.5 L61.9,333.1 L64,345.9 L65.8,353.4 L67.3,350.2 L68.3,341.6 L69.4,337.4 L70.5,343.8 L72.6,352.3 L74.7,358.7 L77.3,366.2 L79,363 L81.1,355.5 L82.1,360.9 L83.8,366.2 L86.4,369.4 L88.1,367.3 L89,363 L90.7,366.2 L93.9,371.6 L97.1,376.9 L100.3,381.2 L105.6,385.4 L112,388.6 L118.5,390.8 L124.9,392.9 L129.1,395.1 L135.6,397.2 L144.1,398.3 L152.6,399.3 L161.8,400.4" fill="none" stroke="#1a1a1a" stroke-width="1.2" stroke-linejoin="round"/>
<path d="M35.8,407.2 L39.6,406.5 L41.5,405.3 L43.2,402.7 L44.7,405.9 L46,407.2 L52.4,407.2 L54.9,405.9 L57.5,404 L58.7,403.4 L60,405.3 L61.9,407.2 L64.5,406.8 L67.6,405.3 L69.5,406.5 L71.5,407.2 L77,407.1 L79.1,406.3 L81,407.2 L162,407.3" fill="none" stroke="#2a2aff" stroke-width="1.05" stroke-dasharray="2.1,1.05"/>
<path d="M34.75,399.3 L39.64,399.3 L41.74,395.1 L43.24,389.7 L44.2,369.4 L45.1,346 L45.8,334 L46.6,344 L47.4,356.6 L47.54,356.6 L49.24,367.3 L51.34,375.8 L53.54,380.1 L54.54,381.2 L55.64,378 L56.74,367.3 L57.74,350.2 L58.84,337.4 L60.54,326.5 L62.04,333.1 L64.14,345.9 L65.94,353.4 L67.44,350.2 L68.44,341.6 L69.54,337.4 L70.64,343.8 L72.74,352.3 L74.84,358.7 L77.44,366.2 L79.14,363 L81.24,355.5 L82.24,360.9 L83.94,366.2 L86.54,369.4 L88.24,367.3 L89.14,363 L90.84,366.2 L94.04,371.6 L97.24,376.9 L100.44,381.2 L105.74,385.4 L112.14,388.6 L118.64,390.8 L125.04,392.9 L129.24,395.1 L135.74,397.2 L144.24,398.3 L152.74,399.3 L161.94,400.4" fill="none" stroke="#0a8a0a" stroke-width="1.05" stroke-dasharray="2.1,1.05"/>
<path d="M34.75,399.3 L39.5,399.3 L41.6,395.1 L43.1,389.7 L44.2,369.4 L45.1,346 L45.8,334.5 L46.6,344 L47.4,356.6 L49.1,367.3 L51.2,375.8 L53.4,380.1 L54.4,381.2 L55.5,378 L56.6,367.3 L57.6,350.2 L58.7,337.4 L60.4,326.5 L61.9,333.1 L64,345.9 L65.8,353.4 L67.3,350.2 L68.3,341.6 L69.4,337.4 L70.5,343.8 L72.6,352.3 L74.7,358.7 L77.3,366.2 L79,363 L81.1,355.5 L82.1,360.9 L83.8,366.2 L86.4,369.4 L88.1,367.3 L89,363 L90.7,366.2 L93.9,371.6 L97.1,376.9 L100.3,381.2 L105.6,385.4 L112,388.6 L118.5,390.8 L124.9,392.9 L129.1,395.1 L135.6,397.2 L144.1,398.3 L152.6,399.3 L161.8,400.4" fill="none" stroke="#ff2020" stroke-width="1.05" stroke-dasharray="2.1,1.05"/>
</g>
<rect x="32.25" y="301.4" width="129.55" height="106.8" fill="none" stroke="#8a8a8a" stroke-width="1.1"/>
<line x1="30.45" y1="408.2" x2="32.25" y2="408.2" stroke="#8a8a8a" stroke-width="0.8"/>
<text transform="translate(29.15,410.65) scale(0.93,1)" font-family="'Liberation Serif','DejaVu Serif',serif" font-size="7.3" text-anchor="end" fill="#1a1a1a">0</text>
<line x1="30.45" y1="390.42" x2="32.25" y2="390.42" stroke="#8a8a8a" stroke-width="0.8"/>
<text transform="translate(29.15,392.87) scale(0.93,1)" font-family="'Liberation Serif','DejaVu Serif',serif" font-size="7.3" text-anchor="end" fill="#1a1a1a">50</text>
<line x1="30.45" y1="372.64" x2="32.25" y2="372.64" stroke="#8a8a8a" stroke-width="0.8"/>
<text transform="translate(29.15,375.09) scale(0.93,1)" font-family="'Liberation Serif','DejaVu Serif',serif" font-size="7.3" text-anchor="end" fill="#1a1a1a">100</text>
<line x1="30.45" y1="354.85" x2="32.25" y2="354.85" stroke="#8a8a8a" stroke-width="0.8"/>
<text transform="translate(29.15,357.3) scale(0.93,1)" font-family="'Liberation Serif','DejaVu Serif',serif" font-size="7.3" text-anchor="end" fill="#1a1a1a">150</text>
<line x1="30.45" y1="337.07" x2="32.25" y2="337.07" stroke="#8a8a8a" stroke-width="0.8"/>
<text transform="translate(29.15,339.52) scale(0.93,1)" font-family="'Liberation Serif','DejaVu Serif',serif" font-size="7.3" text-anchor="end" fill="#1a1a1a">200</text>
<line x1="30.45" y1="319.29" x2="32.25" y2="319.29" stroke="#8a8a8a" stroke-width="0.8"/>
<text transform="translate(29.15,321.74) scale(0.93,1)" font-family="'Liberation Serif','DejaVu Serif',serif" font-size="7.3" text-anchor="end" fill="#1a1a1a">250</text>
<line x1="30.45" y1="301.51" x2="32.25" y2="301.51" stroke="#8a8a8a" stroke-width="0.8"/>
<text transform="translate(29.15,303.96) scale(0.93,1)" font-family="'Liberation Serif','DejaVu Serif',serif" font-size="7.3" text-anchor="end" fill="#1a1a1a">300</text>
<line x1="161.8" y1="301.4" x2="163.6" y2="301.4" stroke="#8a8a8a" stroke-width="0.8"/>
<text transform="translate(164.9,303.85) scale(0.93,1)" font-family="'Liberation Serif','DejaVu Serif',serif" font-size="7.3" fill="#1a1a1a">0</text>
<line x1="161.8" y1="323.91" x2="163.6" y2="323.91" stroke="#8a8a8a" stroke-width="0.8"/>
<text transform="translate(164.9,326.36) scale(0.93,1)" font-family="'Liberation Serif','DejaVu Serif',serif" font-size="7.3" fill="#1a1a1a">20</text>
<line x1="161.8" y1="346.42" x2="163.6" y2="346.42" stroke="#8a8a8a" stroke-width="0.8"/>
<text transform="translate(164.9,348.87) scale(0.93,1)" font-family="'Liberation Serif','DejaVu Serif',serif" font-size="7.3" fill="#1a1a1a">40</text>
<line x1="161.8" y1="368.92" x2="163.6" y2="368.92" stroke="#8a8a8a" stroke-width="0.8"/>
<text transform="translate(164.9,371.37) scale(0.93,1)" font-family="'Liberation Serif','DejaVu Serif',serif" font-size="7.3" fill="#1a1a1a">60</text>
<line x1="161.8" y1="391.43" x2="163.6" y2="391.43" stroke="#8a8a8a" stroke-width="0.8"/>
<text transform="translate(164.9,393.88) scale(0.93,1)" font-family="'Liberation Serif','DejaVu Serif',serif" font-size="7.3" fill="#1a1a1a">80</text>
<line x1="32.25" y1="408.2" x2="32.25" y2="410" stroke="#8a8a8a" stroke-width="0.8"/>
<text transform="translate(32.25,416.2) scale(0.93,1)" font-family="'Liberation Serif','DejaVu Serif',serif" font-size="7.3" text-anchor="middle" fill="#1a1a1a">0</text>
<line x1="42.96" y1="408.2" x2="42.96" y2="410" stroke="#8a8a8a" stroke-width="0.8"/>
<text transform="translate(42.96,416.2) scale(0.93,1)" font-family="'Liberation Serif','DejaVu Serif',serif" font-size="7.3" text-anchor="middle" fill="#1a1a1a">15</text>
<line x1="53.68" y1="408.2" x2="53.68" y2="410" stroke="#8a8a8a" stroke-width="0.8"/>
<text transform="translate(53.68,416.2) scale(0.93,1)" font-family="'Liberation Serif','DejaVu Serif',serif" font-size="7.3" text-anchor="middle" fill="#1a1a1a">30</text>
<line x1="64.39" y1="408.2" x2="64.39" y2="410" stroke="#8a8a8a" stroke-width="0.8"/>
<text transform="translate(64.39,416.2) scale(0.93,1)" font-family="'Liberation Serif','DejaVu Serif',serif" font-size="7.3" text-anchor="middle" fill="#1a1a1a">45</text>
<line x1="75.1" y1="408.2" x2="75.1" y2="410" stroke="#8a8a8a" stroke-width="0.8"/>
<text transform="translate(75.1,416.2) scale(0.93,1)" font-family="'Liberation Serif','DejaVu Serif',serif" font-size="7.3" text-anchor="middle" fill="#1a1a1a">60</text>
<line x1="85.81" y1="408.2" x2="85.81" y2="410" stroke="#8a8a8a" stroke-width="0.8"/>
<text transform="translate(85.81,416.2) scale(0.93,1)" font-family="'Liberation Serif','DejaVu Serif',serif" font-size="7.3" text-anchor="middle" fill="#1a1a1a">75</text>
<line x1="96.53" y1="408.2" x2="96.53" y2="410" stroke="#8a8a8a" stroke-width="0.8"/>
<text transform="translate(96.53,416.2) scale(0.93,1)" font-family="'Liberation Serif','DejaVu Serif',serif" font-size="7.3" text-anchor="middle" fill="#1a1a1a">90</text>
<line x1="107.24" y1="408.2" x2="107.24" y2="410" stroke="#8a8a8a" stroke-width="0.8"/>
<text transform="translate(107.24,416.2) scale(0.93,1)" font-family="'Liberation Serif','DejaVu Serif',serif" font-size="7.3" text-anchor="middle" fill="#1a1a1a">105</text>
<line x1="117.95" y1="408.2" x2="117.95" y2="410" stroke="#8a8a8a" stroke-width="0.8"/>
<text transform="translate(117.95,416.2) scale(0.93,1)" font-family="'Liberation Serif','DejaVu Serif',serif" font-size="7.3" text-anchor="middle" fill="#1a1a1a">120</text>
<line x1="128.66" y1="408.2" x2="128.66" y2="410" stroke="#8a8a8a" stroke-width="0.8"/>
<text transform="translate(128.66,416.2) scale(0.93,1)" font-family="'Liberation Serif','DejaVu Serif',serif" font-size="7.3" text-anchor="middle" fill="#1a1a1a">135</text>
<line x1="139.38" y1="408.2" x2="139.38" y2="410" stroke="#8a8a8a" stroke-width="0.8"/>
<text transform="translate(139.38,416.2) scale(0.93,1)" font-family="'Liberation Serif','DejaVu Serif',serif" font-size="7.3" text-anchor="middle" fill="#1a1a1a">150</text>
<line x1="150.09" y1="408.2" x2="150.09" y2="410" stroke="#8a8a8a" stroke-width="0.8"/>
<text transform="translate(150.09,416.2) scale(0.93,1)" font-family="'Liberation Serif','DejaVu Serif',serif" font-size="7.3" text-anchor="middle" fill="#1a1a1a">165</text>
<text transform="translate(14.55,354.8) rotate(-90)" font-family="'Liberation Serif','DejaVu Serif',serif" font-size="7.3" text-anchor="middle" fill="#1a1a1a">Discharge (<tspan font-family="'DejaVu Sans',sans-serif" font-style="italic" font-size="6.6">m</tspan><tspan font-family="'DejaVu Sans',sans-serif" font-size="4.6" dy="-2.6">3</tspan><tspan font-family="'DejaVu Sans',sans-serif" font-style="italic" font-size="6.6" dy="2.6">/s</tspan>)</text>
<text transform="translate(179.3,354.8) rotate(-90)" font-family="'Liberation Serif','DejaVu Serif',serif" font-size="7.3" text-anchor="middle" fill="#1a1a1a">Rainfall (<tspan font-family="'DejaVu Sans',sans-serif" font-style="italic" font-size="6.6">mm</tspan>)</text>
<text x="97.03" y="426.4" font-family="'Liberation Serif','DejaVu Serif',serif" font-size="7.3" text-anchor="middle" fill="#1a1a1a">Time (<tspan font-family="'DejaVu Sans',sans-serif" font-style="italic" font-size="6.6">Δt</tspan>)</text>
<clipPath id="clip21"><rect x="213.4" y="301.4" width="130" height="106.8"/></clipPath>
<g clip-path="url(#clip21)">
<rect x="213.47" y="301.4" width="0.66" height="1.9" fill="#085ca8"/>
<rect x="214.19" y="301.4" width="0.66" height="1.9" fill="#085ca8"/>
<rect x="214.9" y="301.4" width="0.66" height="1.9" fill="#085ca8"/>
<rect x="215.62" y="301.4" width="0.66" height="2.5" fill="#085ca8"/>
<rect x="216.34" y="301.4" width="0.66" height="2.5" fill="#085ca8"/>
<rect x="217.05" y="301.4" width="0.66" height="2.5" fill="#085ca8"/>
<rect x="219.92" y="301.4" width="0.66" height="12.4" fill="#085ca8"/>
<rect x="220.64" y="301.4" width="0.66" height="12.4" fill="#085ca8"/>
<rect x="221.35" y="301.4" width="0.66" height="5.1" fill="#085ca8"/>
<rect x="222.07" y="301.4" width="0.66" height="5.1" fill="#085ca8"/>
<rect x="222.79" y="301.4" width="0.66" height="21.11" fill="#085ca8"/>
<rect x="223.5" y="301.4" width="0.66" height="21.11" fill="#085ca8"/>
<rect x="224.22" y="301.4" width="0.66" height="1.5" fill="#085ca8"/>
<rect x="224.94" y="301.4" width="0.66" height="1.5" fill="#085ca8"/>
<rect x="232.82" y="301.4" width="0.66" height="6.2" fill="#085ca8"/>
<rect x="233.54" y="301.4" width="0.66" height="6.2" fill="#085ca8"/>
<rect x="234.25" y="301.4" width="0.66" height="3" fill="#085ca8"/>
<rect x="234.97" y="301.4" width="0.66" height="14.2" fill="#085ca8"/>
<rect x="235.69" y="301.4" width="0.66" height="14.2" fill="#085ca8"/>
<rect x="236.4" y="301.4" width="0.66" height="5.9" fill="#085ca8"/>
<rect x="237.12" y="301.4" width="0.66" height="5.9" fill="#085ca8"/>
<rect x="237.84" y="301.4" width="0.66" height="15.71" fill="#085ca8"/>
<rect x="238.55" y="301.4" width="0.66" height="15.71" fill="#085ca8"/>
<rect x="239.27" y="301.4" width="0.66" height="1.5" fill="#085ca8"/>
<rect x="239.99" y="301.4" width="0.66" height="1.5" fill="#085ca8"/>
<rect x="245" y="301.4" width="0.66" height="5.9" fill="#085ca8"/>
<rect x="245.72" y="301.4" width="0.66" height="5.9" fill="#085ca8"/>
<rect x="246.44" y="301.4" width="0.66" height="11.3" fill="#085ca8"/>
<rect x="247.15" y="301.4" width="0.66" height="11.3" fill="#085ca8"/>
<rect x="247.87" y="301.4" width="0.66" height="11.3" fill="#085ca8"/>
<rect x="248.59" y="301.4" width="0.66" height="3" fill="#085ca8"/>
<rect x="249.3" y="301.4" width="0.66" height="3" fill="#085ca8"/>
<rect x="257.9" y="301.4" width="0.66" height="4.4" fill="#085ca8"/>
<rect x="258.62" y="301.4" width="0.66" height="12.1" fill="#085ca8"/>
<rect x="259.34" y="301.4" width="0.66" height="1.5" fill="#085ca8"/>
<rect x="260.05" y="301.4" width="0.66" height="1.5" fill="#085ca8"/>
<rect x="260.77" y="301.4" width="0.66" height="1.5" fill="#085ca8"/>
<rect x="264.35" y="301.4" width="0.66" height="1.5" fill="#085ca8"/>
<rect x="265.07" y="301.4" width="0.66" height="1.5" fill="#085ca8"/>
<rect x="265.79" y="301.4" width="0.66" height="3.7" fill="#085ca8"/>
<rect x="266.5" y="301.4" width="0.66" height="3.7" fill="#085ca8"/>
<rect x="267.22" y="301.4" width="0.66" height="3.7" fill="#085ca8"/>
<path d="M213.45,399.3 L220.68,399.3 L222.78,395.1 L224.29,389.7 L225.39,369.4 L226.39,341.6 L227.2,340.5 L227.8,345.8 L228.6,356.6 L230.31,367.3 L232.42,375.8 L234.62,380.1 L235.63,381.2 L236.73,378 L237.83,367.3 L238.84,350.2 L239.94,337.4 L241.65,326.5 L243.15,333.1 L245.26,345.9 L247.07,353.4 L248.57,350.2 L249.58,341.6 L250.68,337.4 L251.78,343.8 L253.89,352.3 L256,358.7 L258.61,366.2 L260.31,363 L262.42,355.5 L263.42,360.9 L265.13,366.2 L267.74,369.4 L269.44,367.3 L270.35,363 L272.05,366.2 L275.26,371.6 L278.48,376.9 L281.69,381.2 L287,385.4 L293.43,388.6 L299.95,390.8 L306.37,392.9 L310.59,395.1 L317.11,397.2 L325.64,398.3 L334.17,399.3 L343.4,400.4" fill="none" stroke="#1a1a1a" stroke-width="1.2" stroke-linejoin="round"/>
<path d="M217.5,406.7 L220,405.5 L221.9,403.5 L223.2,401.6 L224.5,400.4 L225.3,395.3 L226.4,401.6 L227.6,406.7 L230.8,406.7 L233.4,405.5 L235.9,401.6 L238.5,398.5 L240.4,397.2 L241.6,400.4 L243.5,405.5 L246.1,406.7 L248,403.5 L249.9,400.4 L251.2,403.5 L253.1,406.7 L257.5,406.7 L259.5,403.5 L260.7,401 L262.6,405.5 L265.2,407 L267.7,406.1 L269.6,404.8 L271.5,407 L343.4,407.2" fill="none" stroke="#2a2aff" stroke-width="1.05" stroke-dasharray="2.1,1.05"/>
<path d="M216.98,399.3 L221.11,399.3 L222.1,398 L224.2,396.5 L226,375 L226.9,350 L227.7,336.6 L228.8,352 L230,364 L232.5,374.5 L235.6,383.1 L237.6,380 L239.7,355 L241.5,336 L242.4,333.5 L243.8,338 L246.9,356.2 L249,348 L251,343.8 L252.5,350 L256.2,361 L259.5,368.5 L262.4,359.3 L264.5,366 L265.56,366.2 L268.17,369.4 L269.87,367.3 L270.78,363 L272.48,366.2 L275.69,371.6 L278.91,376.9 L282.12,381.2 L287.43,385.4 L293.86,388.6 L300.38,390.8 L306.8,392.9 L311.02,395.1 L317.54,397.2 L326.07,398.3 L334.6,399.3 L343.83,400.4" fill="none" stroke="#0a8a0a" stroke-width="1.05" stroke-dasharray="2.1,1.05"/>
<path d="M216.98,399.3 L220.82,399.3 L222.93,395.1 L224.43,389.7 L225.5,360 L226.5,345 L227.3,335.6 L228.2,350 L229.4,363.5 L230.45,367.3 L232.56,375.8 L234.77,380.1 L235.77,381.2 L236.87,378 L237.98,367.3 L238.98,350.2 L240.09,337.4 L240.5,340 L242.4,334.5 L243.8,337 L245.4,345.9 L247.21,353.4 L248.72,350.2 L249.5,345 L250.6,340.7 L252,347 L254.03,352.3 L256.14,358.7 L258.75,366.2 L260.46,363 L262.56,355.5 L263.57,360.9 L265.27,366.2 L267.88,369.4 L269.59,367.3 L270.49,363 L272.2,366.2 L275.41,371.6 L278.62,376.9 L281.83,381.2 L287.15,385.4 L293.57,388.6 L300.09,390.8 L306.52,392.9 L310.73,395.1 L317.25,397.2 L325.78,398.3 L334.31,399.3 L343.54,400.4" fill="none" stroke="#ff2020" stroke-width="1.05" stroke-dasharray="2.1,1.05"/>
</g>
<rect x="213.4" y="301.4" width="130" height="106.8" fill="none" stroke="#8a8a8a" stroke-width="1.1"/>
<line x1="211.6" y1="408.2" x2="213.4" y2="408.2" stroke="#8a8a8a" stroke-width="0.8"/>
<text transform="translate(210.3,410.65) scale(0.93,1)" font-family="'Liberation Serif','DejaVu Serif',serif" font-size="7.3" text-anchor="end" fill="#1a1a1a">0</text>
<line x1="211.6" y1="390.42" x2="213.4" y2="390.42" stroke="#8a8a8a" stroke-width="0.8"/>
<text transform="translate(210.3,392.87) scale(0.93,1)" font-family="'Liberation Serif','DejaVu Serif',serif" font-size="7.3" text-anchor="end" fill="#1a1a1a">50</text>
<line x1="211.6" y1="372.64" x2="213.4" y2="372.64" stroke="#8a8a8a" stroke-width="0.8"/>
<text transform="translate(210.3,375.09) scale(0.93,1)" font-family="'Liberation Serif','DejaVu Serif',serif" font-size="7.3" text-anchor="end" fill="#1a1a1a">100</text>
<line x1="211.6" y1="354.85" x2="213.4" y2="354.85" stroke="#8a8a8a" stroke-width="0.8"/>
<text transform="translate(210.3,357.3) scale(0.93,1)" font-family="'Liberation Serif','DejaVu Serif',serif" font-size="7.3" text-anchor="end" fill="#1a1a1a">150</text>
<line x1="211.6" y1="337.07" x2="213.4" y2="337.07" stroke="#8a8a8a" stroke-width="0.8"/>
<text transform="translate(210.3,339.52) scale(0.93,1)" font-family="'Liberation Serif','DejaVu Serif',serif" font-size="7.3" text-anchor="end" fill="#1a1a1a">200</text>
<line x1="211.6" y1="319.29" x2="213.4" y2="319.29" stroke="#8a8a8a" stroke-width="0.8"/>
<text transform="translate(210.3,321.74) scale(0.93,1)" font-family="'Liberation Serif','DejaVu Serif',serif" font-size="7.3" text-anchor="end" fill="#1a1a1a">250</text>
<line x1="211.6" y1="301.51" x2="213.4" y2="301.51" stroke="#8a8a8a" stroke-width="0.8"/>
<text transform="translate(210.3,303.96) scale(0.93,1)" font-family="'Liberation Serif','DejaVu Serif',serif" font-size="7.3" text-anchor="end" fill="#1a1a1a">300</text>
<line x1="343.4" y1="301.4" x2="345.2" y2="301.4" stroke="#8a8a8a" stroke-width="0.8"/>
<text transform="translate(346.5,303.85) scale(0.93,1)" font-family="'Liberation Serif','DejaVu Serif',serif" font-size="7.3" fill="#1a1a1a">0</text>
<line x1="343.4" y1="323.91" x2="345.2" y2="323.91" stroke="#8a8a8a" stroke-width="0.8"/>
<text transform="translate(346.5,326.36) scale(0.93,1)" font-family="'Liberation Serif','DejaVu Serif',serif" font-size="7.3" fill="#1a1a1a">20</text>
<line x1="343.4" y1="346.42" x2="345.2" y2="346.42" stroke="#8a8a8a" stroke-width="0.8"/>
<text transform="translate(346.5,348.87) scale(0.93,1)" font-family="'Liberation Serif','DejaVu Serif',serif" font-size="7.3" fill="#1a1a1a">40</text>
<line x1="343.4" y1="368.92" x2="345.2" y2="368.92" stroke="#8a8a8a" stroke-width="0.8"/>
<text transform="translate(346.5,371.37) scale(0.93,1)" font-family="'Liberation Serif','DejaVu Serif',serif" font-size="7.3" fill="#1a1a1a">60</text>
<line x1="343.4" y1="391.43" x2="345.2" y2="391.43" stroke="#8a8a8a" stroke-width="0.8"/>
<text transform="translate(346.5,393.88) scale(0.93,1)" font-family="'Liberation Serif','DejaVu Serif',serif" font-size="7.3" fill="#1a1a1a">80</text>
<line x1="213.4" y1="408.2" x2="213.4" y2="410" stroke="#8a8a8a" stroke-width="0.8"/>
<text transform="translate(213.4,416.2) scale(0.93,1)" font-family="'Liberation Serif','DejaVu Serif',serif" font-size="7.3" text-anchor="middle" fill="#1a1a1a">0</text>
<line x1="224.15" y1="408.2" x2="224.15" y2="410" stroke="#8a8a8a" stroke-width="0.8"/>
<text transform="translate(224.15,416.2) scale(0.93,1)" font-family="'Liberation Serif','DejaVu Serif',serif" font-size="7.3" text-anchor="middle" fill="#1a1a1a">15</text>
<line x1="234.9" y1="408.2" x2="234.9" y2="410" stroke="#8a8a8a" stroke-width="0.8"/>
<text transform="translate(234.9,416.2) scale(0.93,1)" font-family="'Liberation Serif','DejaVu Serif',serif" font-size="7.3" text-anchor="middle" fill="#1a1a1a">30</text>
<line x1="245.65" y1="408.2" x2="245.65" y2="410" stroke="#8a8a8a" stroke-width="0.8"/>
<text transform="translate(245.65,416.2) scale(0.93,1)" font-family="'Liberation Serif','DejaVu Serif',serif" font-size="7.3" text-anchor="middle" fill="#1a1a1a">45</text>
<line x1="256.4" y1="408.2" x2="256.4" y2="410" stroke="#8a8a8a" stroke-width="0.8"/>
<text transform="translate(256.4,416.2) scale(0.93,1)" font-family="'Liberation Serif','DejaVu Serif',serif" font-size="7.3" text-anchor="middle" fill="#1a1a1a">60</text>
<line x1="267.15" y1="408.2" x2="267.15" y2="410" stroke="#8a8a8a" stroke-width="0.8"/>
<text transform="translate(267.15,416.2) scale(0.93,1)" font-family="'Liberation Serif','DejaVu Serif',serif" font-size="7.3" text-anchor="middle" fill="#1a1a1a">75</text>
<line x1="277.9" y1="408.2" x2="277.9" y2="410" stroke="#8a8a8a" stroke-width="0.8"/>
<text transform="translate(277.9,416.2) scale(0.93,1)" font-family="'Liberation Serif','DejaVu Serif',serif" font-size="7.3" text-anchor="middle" fill="#1a1a1a">90</text>
<line x1="288.65" y1="408.2" x2="288.65" y2="410" stroke="#8a8a8a" stroke-width="0.8"/>
<text transform="translate(288.65,416.2) scale(0.93,1)" font-family="'Liberation Serif','DejaVu Serif',serif" font-size="7.3" text-anchor="middle" fill="#1a1a1a">105</text>
<line x1="299.4" y1="408.2" x2="299.4" y2="410" stroke="#8a8a8a" stroke-width="0.8"/>
<text transform="translate(299.4,416.2) scale(0.93,1)" font-family="'Liberation Serif','DejaVu Serif',serif" font-size="7.3" text-anchor="middle" fill="#1a1a1a">120</text>
<line x1="310.15" y1="408.2" x2="310.15" y2="410" stroke="#8a8a8a" stroke-width="0.8"/>
<text transform="translate(310.15,416.2) scale(0.93,1)" font-family="'Liberation Serif','DejaVu Serif',serif" font-size="7.3" text-anchor="middle" fill="#1a1a1a">135</text>
<line x1="320.9" y1="408.2" x2="320.9" y2="410" stroke="#8a8a8a" stroke-width="0.8"/>
<text transform="translate(320.9,416.2) scale(0.93,1)" font-family="'Liberation Serif','DejaVu Serif',serif" font-size="7.3" text-anchor="middle" fill="#1a1a1a">150</text>
<line x1="331.65" y1="408.2" x2="331.65" y2="410" stroke="#8a8a8a" stroke-width="0.8"/>
<text transform="translate(331.65,416.2) scale(0.93,1)" font-family="'Liberation Serif','DejaVu Serif',serif" font-size="7.3" text-anchor="middle" fill="#1a1a1a">165</text>
<text transform="translate(195.7,354.8) rotate(-90)" font-family="'Liberation Serif','DejaVu Serif',serif" font-size="7.3" text-anchor="middle" fill="#1a1a1a">Discharge (<tspan font-family="'DejaVu Sans',sans-serif" font-style="italic" font-size="6.6">m</tspan><tspan font-family="'DejaVu Sans',sans-serif" font-size="4.6" dy="-2.6">3</tspan><tspan font-family="'DejaVu Sans',sans-serif" font-style="italic" font-size="6.6" dy="2.6">/s</tspan>)</text>
<text transform="translate(360.9,354.8) rotate(-90)" font-family="'Liberation Serif','DejaVu Serif',serif" font-size="7.3" text-anchor="middle" fill="#1a1a1a">Rainfall (<tspan font-family="'DejaVu Sans',sans-serif" font-style="italic" font-size="6.6">mm</tspan>)</text>
<text x="278.4" y="426.4" font-family="'Liberation Serif','DejaVu Serif',serif" font-size="7.3" text-anchor="middle" fill="#1a1a1a">Time (<tspan font-family="'DejaVu Sans',sans-serif" font-style="italic" font-size="6.6">Δt</tspan>)</text>
<clipPath id="clip22"><rect x="394.9" y="301.4" width="130.3" height="106.8"/></clipPath>
<g clip-path="url(#clip22)">
<rect x="394.97" y="301.4" width="0.66" height="1.9" fill="#085ca8"/>
<rect x="395.69" y="301.4" width="0.66" height="1.9" fill="#085ca8"/>
<rect x="396.41" y="301.4" width="0.66" height="1.9" fill="#085ca8"/>
<rect x="397.13" y="301.4" width="0.66" height="2.5" fill="#085ca8"/>
<rect x="397.85" y="301.4" width="0.66" height="2.5" fill="#085ca8"/>
<rect x="398.56" y="301.4" width="0.66" height="2.5" fill="#085ca8"/>
<rect x="401.44" y="301.4" width="0.66" height="12.4" fill="#085ca8"/>
<rect x="402.15" y="301.4" width="0.66" height="12.4" fill="#085ca8"/>
<rect x="402.87" y="301.4" width="0.66" height="5.1" fill="#085ca8"/>
<rect x="403.59" y="301.4" width="0.66" height="5.1" fill="#085ca8"/>
<rect x="404.31" y="301.4" width="0.66" height="21.11" fill="#085ca8"/>
<rect x="405.03" y="301.4" width="0.66" height="21.11" fill="#085ca8"/>
<rect x="405.75" y="301.4" width="0.66" height="1.5" fill="#085ca8"/>
<rect x="406.46" y="301.4" width="0.66" height="1.5" fill="#085ca8"/>
<rect x="414.37" y="301.4" width="0.66" height="6.2" fill="#085ca8"/>
<rect x="415.08" y="301.4" width="0.66" height="6.2" fill="#085ca8"/>
<rect x="415.8" y="301.4" width="0.66" height="3" fill="#085ca8"/>
<rect x="416.52" y="301.4" width="0.66" height="14.2" fill="#085ca8"/>
<rect x="417.24" y="301.4" width="0.66" height="14.2" fill="#085ca8"/>
<rect x="417.96" y="301.4" width="0.66" height="5.9" fill="#085ca8"/>
<rect x="418.68" y="301.4" width="0.66" height="5.9" fill="#085ca8"/>
<rect x="419.39" y="301.4" width="0.66" height="15.71" fill="#085ca8"/>
<rect x="420.11" y="301.4" width="0.66" height="15.71" fill="#085ca8"/>
<rect x="420.83" y="301.4" width="0.66" height="1.5" fill="#085ca8"/>
<rect x="421.55" y="301.4" width="0.66" height="1.5" fill="#085ca8"/>
<rect x="426.58" y="301.4" width="0.66" height="5.9" fill="#085ca8"/>
<rect x="427.3" y="301.4" width="0.66" height="5.9" fill="#085ca8"/>
<rect x="428.01" y="301.4" width="0.66" height="11.3" fill="#085ca8"/>
<rect x="428.73" y="301.4" width="0.66" height="11.3" fill="#085ca8"/>
<rect x="429.45" y="301.4" width="0.66" height="11.3" fill="#085ca8"/>
<rect x="430.17" y="301.4" width="0.66" height="3" fill="#085ca8"/>
<rect x="430.89" y="301.4" width="0.66" height="3" fill="#085ca8"/>
<rect x="439.51" y="301.4" width="0.66" height="4.4" fill="#085ca8"/>
<rect x="440.22" y="301.4" width="0.66" height="12.1" fill="#085ca8"/>
<rect x="440.94" y="301.4" width="0.66" height="1.5" fill="#085ca8"/>
<rect x="441.66" y="301.4" width="0.66" height="1.5" fill="#085ca8"/>
<rect x="442.38" y="301.4" width="0.66" height="1.5" fill="#085ca8"/>
<rect x="445.97" y="301.4" width="0.66" height="1.5" fill="#085ca8"/>
<rect x="446.69" y="301.4" width="0.66" height="1.5" fill="#085ca8"/>
<rect x="447.41" y="301.4" width="0.66" height="3.7" fill="#085ca8"/>
<rect x="448.13" y="301.4" width="0.66" height="3.7" fill="#085ca8"/>
<rect x="448.84" y="301.4" width="0.66" height="3.7" fill="#085ca8"/>
<path d="M394.95,399.71 L402.19,399.71 L404.3,395.7 L405.81,390.55 L406.92,371.19 L407.92,344.67 L408.73,343.62 L409.33,348.67 L410.14,358.98 L411.85,369.18 L413.96,377.29 L416.17,381.39 L417.18,382.44 L418.28,379.39 L419.39,369.18 L420.4,352.87 L421.5,340.66 L423.21,330.26 L424.72,336.56 L426.83,348.77 L428.64,355.92 L430.15,352.87 L431.16,344.67 L432.27,340.66 L433.37,346.77 L435.48,354.87 L437.6,360.98 L440.21,368.13 L441.92,365.08 L444.03,357.93 L445.04,363.08 L446.75,368.13 L449.36,371.19 L451.07,369.18 L451.98,365.08 L453.69,368.13 L456.91,373.29 L460.13,378.34 L463.34,382.44 L468.67,386.45 L475.11,389.5 L481.65,391.6 L488.09,393.6 L492.31,395.7 L498.85,397.71 L507.4,398.76 L515.95,399.71 L525.2,400.76" fill="none" stroke="#1a1a1a" stroke-width="1.2" stroke-linejoin="round"/>
<path d="M400.1,406.9 L402.6,404.4 L404.5,401.8 L405.8,395.5 L407.1,382.7 L407.7,378.9 L408.4,386.5 L409.3,398 L410.3,405.6 L411.5,407.5 L415.4,407.5 L417.3,404.4 L419.2,398 L420.5,392.9 L421.7,386.5 L422.7,382.7 L423.6,387.8 L424.9,398 L426.8,406.9 L428.1,407.5 L430,401.8 L431.9,394.2 L433.2,400.5 L435.1,406.9 L438.3,407.5 L441.5,403.1 L443.1,401.2 L445.3,405 L447.8,407.5 L450.4,405.6 L451.6,404.4 L453.5,406.3 L456.1,407.5 L525.2,407.5" fill="none" stroke="#2a2aff" stroke-width="1.05" stroke-dasharray="2.1,1.05"/>
<path d="M399.93,399.71 L403.05,399.71 L404.2,399.6 L406.2,399.6 L408.3,386.2 L409.1,346 L410,352 L412,368 L415,380 L417.6,384.1 L420,370 L422.5,345 L423.8,336.6 L425.5,345 L427.9,362.4 L430,356 L432,349 L434.5,362 L436,366 L438,370 L442,373.5 L443.9,366.6 L446,372 L449,375 L451.5,375.4 L454,371 L456,373 L461.6,381 L464,383.5 L464.21,382.44 L469.54,386.45 L475.97,390.1 L482.51,392.2 L488.95,394.2 L493.17,396.3 L499.71,398.31 L508.26,399.36 L516.81,400.31 L526.06,401.36" fill="none" stroke="#0a8a0a" stroke-width="1.05" stroke-dasharray="2.1,1.05"/>
<path d="M399.93,399.71 L402.48,399.71 L404.2,398.6 L405.2,397.5 L407.3,382 L408.3,359.3 L409.3,362 L411.4,370 L415.5,379.5 L418.5,379 L420.7,359.3 L422.8,327.3 L423.8,326.3 L425.4,338 L428.5,352 L432,334.5 L434.1,348 L437.6,362.8 L440.8,367.8 L443.3,359.5 L445.8,366.6 L449,372 L452.8,369.7 L455.3,371.5 L458,375.5 L460.41,378.34 L463.63,382.44 L468.96,386.45 L475.4,390.04 L481.94,392.2 L488.37,394.2 L492.6,396.3 L499.14,398.31 L507.68,399.36 L516.23,400.31 L525.49,401.36" fill="none" stroke="#ff2020" stroke-width="1.05" stroke-dasharray="2.1,1.05"/>
</g>
<rect x="394.9" y="301.4" width="130.3" height="106.8" fill="none" stroke="#8a8a8a" stroke-width="1.1"/>
<line x1="393.1" y1="408.2" x2="394.9" y2="408.2" stroke="#8a8a8a" stroke-width="0.8"/>
<text transform="translate(391.8,410.65) scale(0.93,1)" font-family="'Liberation Serif','DejaVu Serif',serif" font-size="7.3" text-anchor="end" fill="#1a1a1a">0</text>
<line x1="393.1" y1="391.24" x2="394.9" y2="391.24" stroke="#8a8a8a" stroke-width="0.8"/>
<text transform="translate(391.8,393.69) scale(0.93,1)" font-family="'Liberation Serif','DejaVu Serif',serif" font-size="7.3" text-anchor="end" fill="#1a1a1a">50</text>
<line x1="393.1" y1="374.27" x2="394.9" y2="374.27" stroke="#8a8a8a" stroke-width="0.8"/>
<text transform="translate(391.8,376.72) scale(0.93,1)" font-family="'Liberation Serif','DejaVu Serif',serif" font-size="7.3" text-anchor="end" fill="#1a1a1a">100</text>
<line x1="393.1" y1="357.31" x2="394.9" y2="357.31" stroke="#8a8a8a" stroke-width="0.8"/>
<text transform="translate(391.8,359.76) scale(0.93,1)" font-family="'Liberation Serif','DejaVu Serif',serif" font-size="7.3" text-anchor="end" fill="#1a1a1a">150</text>
<line x1="393.1" y1="340.35" x2="394.9" y2="340.35" stroke="#8a8a8a" stroke-width="0.8"/>
<text transform="translate(391.8,342.8) scale(0.93,1)" font-family="'Liberation Serif','DejaVu Serif',serif" font-size="7.3" text-anchor="end" fill="#1a1a1a">200</text>
<line x1="393.1" y1="323.38" x2="394.9" y2="323.38" stroke="#8a8a8a" stroke-width="0.8"/>
<text transform="translate(391.8,325.83) scale(0.93,1)" font-family="'Liberation Serif','DejaVu Serif',serif" font-size="7.3" text-anchor="end" fill="#1a1a1a">250</text>
<line x1="393.1" y1="306.42" x2="394.9" y2="306.42" stroke="#8a8a8a" stroke-width="0.8"/>
<text transform="translate(391.8,308.87) scale(0.93,1)" font-family="'Liberation Serif','DejaVu Serif',serif" font-size="7.3" text-anchor="end" fill="#1a1a1a">300</text>
<line x1="525.2" y1="301.4" x2="527" y2="301.4" stroke="#8a8a8a" stroke-width="0.8"/>
<text transform="translate(528.3,303.85) scale(0.93,1)" font-family="'Liberation Serif','DejaVu Serif',serif" font-size="7.3" fill="#1a1a1a">0</text>
<line x1="525.2" y1="323.91" x2="527" y2="323.91" stroke="#8a8a8a" stroke-width="0.8"/>
<text transform="translate(528.3,326.36) scale(0.93,1)" font-family="'Liberation Serif','DejaVu Serif',serif" font-size="7.3" fill="#1a1a1a">20</text>
<line x1="525.2" y1="346.42" x2="527" y2="346.42" stroke="#8a8a8a" stroke-width="0.8"/>
<text transform="translate(528.3,348.87) scale(0.93,1)" font-family="'Liberation Serif','DejaVu Serif',serif" font-size="7.3" fill="#1a1a1a">40</text>
<line x1="525.2" y1="368.92" x2="527" y2="368.92" stroke="#8a8a8a" stroke-width="0.8"/>
<text transform="translate(528.3,371.37) scale(0.93,1)" font-family="'Liberation Serif','DejaVu Serif',serif" font-size="7.3" fill="#1a1a1a">60</text>
<line x1="525.2" y1="391.43" x2="527" y2="391.43" stroke="#8a8a8a" stroke-width="0.8"/>
<text transform="translate(528.3,393.88) scale(0.93,1)" font-family="'Liberation Serif','DejaVu Serif',serif" font-size="7.3" fill="#1a1a1a">80</text>
<line x1="394.9" y1="408.2" x2="394.9" y2="410" stroke="#8a8a8a" stroke-width="0.8"/>
<text transform="translate(394.9,416.2) scale(0.93,1)" font-family="'Liberation Serif','DejaVu Serif',serif" font-size="7.3" text-anchor="middle" fill="#1a1a1a">0</text>
<line x1="405.67" y1="408.2" x2="405.67" y2="410" stroke="#8a8a8a" stroke-width="0.8"/>
<text transform="translate(405.67,416.2) scale(0.93,1)" font-family="'Liberation Serif','DejaVu Serif',serif" font-size="7.3" text-anchor="middle" fill="#1a1a1a">15</text>
<line x1="416.45" y1="408.2" x2="416.45" y2="410" stroke="#8a8a8a" stroke-width="0.8"/>
<text transform="translate(416.45,416.2) scale(0.93,1)" font-family="'Liberation Serif','DejaVu Serif',serif" font-size="7.3" text-anchor="middle" fill="#1a1a1a">30</text>
<line x1="427.22" y1="408.2" x2="427.22" y2="410" stroke="#8a8a8a" stroke-width="0.8"/>
<text transform="translate(427.22,416.2) scale(0.93,1)" font-family="'Liberation Serif','DejaVu Serif',serif" font-size="7.3" text-anchor="middle" fill="#1a1a1a">45</text>
<line x1="438" y1="408.2" x2="438" y2="410" stroke="#8a8a8a" stroke-width="0.8"/>
<text transform="translate(438,416.2) scale(0.93,1)" font-family="'Liberation Serif','DejaVu Serif',serif" font-size="7.3" text-anchor="middle" fill="#1a1a1a">60</text>
<line x1="448.77" y1="408.2" x2="448.77" y2="410" stroke="#8a8a8a" stroke-width="0.8"/>
<text transform="translate(448.77,416.2) scale(0.93,1)" font-family="'Liberation Serif','DejaVu Serif',serif" font-size="7.3" text-anchor="middle" fill="#1a1a1a">75</text>
<line x1="459.55" y1="408.2" x2="459.55" y2="410" stroke="#8a8a8a" stroke-width="0.8"/>
<text transform="translate(459.55,416.2) scale(0.93,1)" font-family="'Liberation Serif','DejaVu Serif',serif" font-size="7.3" text-anchor="middle" fill="#1a1a1a">90</text>
<line x1="470.32" y1="408.2" x2="470.32" y2="410" stroke="#8a8a8a" stroke-width="0.8"/>
<text transform="translate(470.32,416.2) scale(0.93,1)" font-family="'Liberation Serif','DejaVu Serif',serif" font-size="7.3" text-anchor="middle" fill="#1a1a1a">105</text>
<line x1="481.1" y1="408.2" x2="481.1" y2="410" stroke="#8a8a8a" stroke-width="0.8"/>
<text transform="translate(481.1,416.2) scale(0.93,1)" font-family="'Liberation Serif','DejaVu Serif',serif" font-size="7.3" text-anchor="middle" fill="#1a1a1a">120</text>
<line x1="491.87" y1="408.2" x2="491.87" y2="410" stroke="#8a8a8a" stroke-width="0.8"/>
<text transform="translate(491.87,416.2) scale(0.93,1)" font-family="'Liberation Serif','DejaVu Serif',serif" font-size="7.3" text-anchor="middle" fill="#1a1a1a">135</text>
<line x1="502.65" y1="408.2" x2="502.65" y2="410" stroke="#8a8a8a" stroke-width="0.8"/>
<text transform="translate(502.65,416.2) scale(0.93,1)" font-family="'Liberation Serif','DejaVu Serif',serif" font-size="7.3" text-anchor="middle" fill="#1a1a1a">150</text>
<line x1="513.42" y1="408.2" x2="513.42" y2="410" stroke="#8a8a8a" stroke-width="0.8"/>
<text transform="translate(513.42,416.2) scale(0.93,1)" font-family="'Liberation Serif','DejaVu Serif',serif" font-size="7.3" text-anchor="middle" fill="#1a1a1a">165</text>
<text transform="translate(377.2,354.8) rotate(-90)" font-family="'Liberation Serif','DejaVu Serif',serif" font-size="7.3" text-anchor="middle" fill="#1a1a1a">Discharge (<tspan font-family="'DejaVu Sans',sans-serif" font-style="italic" font-size="6.6">m</tspan><tspan font-family="'DejaVu Sans',sans-serif" font-size="4.6" dy="-2.6">3</tspan><tspan font-family="'DejaVu Sans',sans-serif" font-style="italic" font-size="6.6" dy="2.6">/s</tspan>)</text>
<text transform="translate(542.7,354.8) rotate(-90)" font-family="'Liberation Serif','DejaVu Serif',serif" font-size="7.3" text-anchor="middle" fill="#1a1a1a">Rainfall (<tspan font-family="'DejaVu Sans',sans-serif" font-style="italic" font-size="6.6">mm</tspan>)</text>
<text x="460.05" y="426.4" font-family="'Liberation Serif','DejaVu Serif',serif" font-size="7.3" text-anchor="middle" fill="#1a1a1a">Time (<tspan font-family="'DejaVu Sans',sans-serif" font-style="italic" font-size="6.6">Δt</tspan>)</text>
<rect x="90" y="32.6" width="69.6" height="52.6" rx="1.8" fill="#ffffff" fill-opacity="0.8" stroke="#d0d0d0" stroke-width="0.7"/>
<line x1="92.3" y1="38.4" x2="107" y2="38.4" stroke="#111" stroke-width="1.05"/>
<line x1="92.3" y1="48.5" x2="107" y2="48.5" stroke="#2a2aff" stroke-width="1.05" stroke-dasharray="2.1,1.05"/>
<line x1="92.3" y1="59" x2="107" y2="59" stroke="#0a8a0a" stroke-width="1.05" stroke-dasharray="2.1,1.05"/>
<line x1="92.3" y1="69.2" x2="107" y2="69.2" stroke="#ff2020" stroke-width="1.05" stroke-dasharray="2.1,1.05"/>
<rect x="92.5" y="77.1" width="14.4" height="4.7" fill="#0d5fad"/>
<text x="112.6" y="40.9" font-family="'Liberation Serif','DejaVu Serif',serif" font-size="7.25" fill="#1a1a1a">Observation</text>
<text x="112.6" y="51" font-family="'Liberation Serif','DejaVu Serif',serif" font-size="7.25" fill="#1a1a1a">Prediction-P</text>
<text x="112.6" y="61.5" font-family="'Liberation Serif','DejaVu Serif',serif" font-size="7.25" fill="#1a1a1a">Prediction-Q</text>
<text x="112.6" y="71.7" font-family="'Liberation Serif','DejaVu Serif',serif" font-size="7.25" fill="#1a1a1a">Prediction-Q-P</text>
<text x="112.6" y="81.9" font-family="'Liberation Serif','DejaVu Serif',serif" font-size="7.25" fill="#1a1a1a">Precipitation</text>
</svg>
</body></html>
